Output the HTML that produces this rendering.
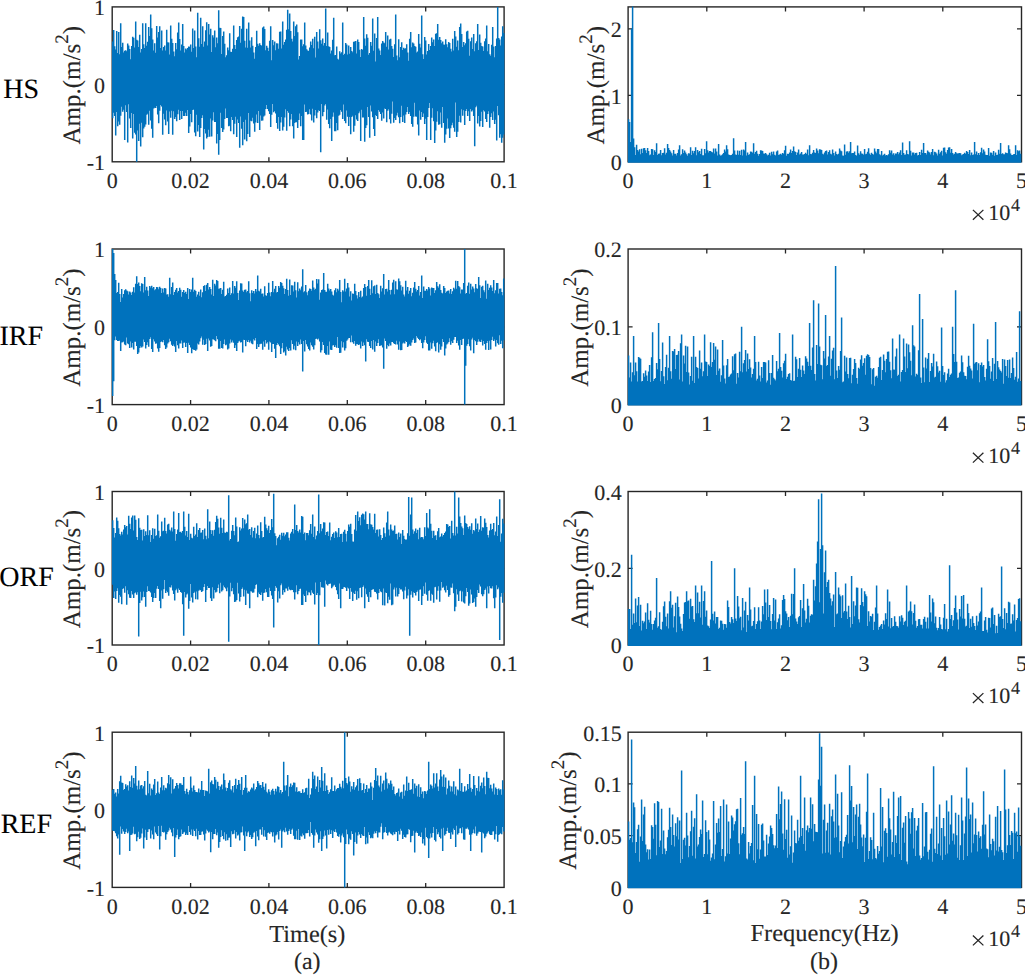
<!DOCTYPE html><html><head><meta charset="utf-8"><style>html,body{margin:0;padding:0;background:#fff;width:1025px;height:975px;overflow:hidden}svg{display:block}text{font-family:"Liberation Serif", serif;fill:#262626;stroke:#262626;stroke-width:0.12px;text-rendering:geometricPrecision}</style></head><body>
<svg width="1025" height="975" viewBox="0 0 1025 975">
<rect width="1025" height="975" fill="#fff"/>
<rect x="112.2" y="6.9" width="391.9" height="154.9" fill="none" stroke="#262626" stroke-width="1.4"/>
<path d="M190.6 161.8V157.3M190.6 6.9V11.4M268.9 161.8V157.3M268.9 6.9V11.4M347.3 161.8V157.3M347.3 6.9V11.4M425.7 161.8V157.3M425.7 6.9V11.4M112.2 84.4H116.7M504.1 84.4H499.6" stroke="#262626" stroke-width="1.3" fill="none"/>
<clipPath id="cl0"><rect x="111.5" y="6.4" width="393.4" height="156.7"/></clipPath>
<path clip-path="url(#cl0)" d="M112.7 41.6V118.3M113.7 29.9V112.7M114.7 46.3V115.9M115.7 49.6V135.5M116.7 31.1V111.9M117.7 53V126.2M118.7 31.9V121.6M119.7 54.2V124.7M120.7 23.2V115.7M121.7 47V106.8M122.7 42.7V111.8M123.7 52.6V109.7M124.7 50.8V140.1M125.7 50.2V105.2M126.7 51.2V112M127.7 43.6V142.4M128.7 45.5V104.2M129.7 48.9V118.6M130.7 59.2V127.9M131.7 45.9V113M132.7 36.8V138.6M133.7 37.8V114M134.7 47.6V132.7M135.7 21.6V134.6M136.7 39.7V161.8M137.7 40.5V130.6M138.7 47.1V141.1M139.7 34.7V123.7M140.7 52.6V146.6M141.7 48.9V122.7M142.7 23.2V137.2M143.7 44.3V128.4M144.7 48.1V126.7M145.7 23.2V124.5M146.7 45.7V114.8M147.7 41.8V113.7M148.7 27V124.7M149.7 36.1V110.7M150.7 14.6V120.4M151.7 28.2V128.7M152.7 39.6V137.8M153.7 50.5V108.5M154.7 43.2V107.8M155.7 52.8V108.1M156.7 25.9V106M157.7 37.5V114.5M158.7 32V123.2M159.7 26.3V110.7M160.7 47.9V105.1M161.7 30.4V106.4M162.7 50.4V134.7M163.7 47V113.7M164.7 45.4V119.6M165.7 50.4V125.2M166.7 29.7V110.5M167.7 42.2V121.5M168.7 42.4V133.9M169.7 54.6V111.5M170.7 25.5V117.7M171.7 38.8V110.7M172.7 43V134.7M173.7 51.4V111.3M174.7 56.2V119M175.7 43.1V117M176.7 49.3V121.3M177.7 32.6V114.2M178.7 22.4V109.7M179.7 39.1V120.1M180.7 50.6V111.1M181.7 44.6V119M182.7 23.9V110.9M183.7 46V115.9M184.7 52.4V116.1M185.7 48.6V112.7M186.7 49.6V115.9M187.7 48V110M188.7 46.4V133.1M189.7 46.7V126.5M190.7 44.5V113.9M191.7 51.8V122.3M192.7 28.6V110M193.7 48.1V109.5M194.7 30.4V132.4M195.7 46.5V136.2M196.7 57.3V114.7M197.7 12.7V131.6M198.7 38.3V125.1M199.7 46.7V136.9M200.7 17.7V127.9M201.7 44.1V118.1M202.7 26.3V115.2M203.7 46.7V149.4M204.7 41.5V129.1M205.7 30.3V133.5M206.7 22.2V138.6M207.7 45.4V137M208.7 24V129.7M209.7 34.5V136.8M210.7 28.7V118.6M211.7 51.9V136.6M212.7 35.2V120.6M213.7 37.4V112.2M214.7 30.5V121.9M215.7 47.2V122.1M216.7 37.5V143.5M217.7 43.3V134.1M218.7 10.2V154.8M219.7 27.7V140M220.7 27.9V112.8M221.7 54.1V128.1M222.7 36V132M223.7 31.6V129.4M224.7 43.8V118.9M225.7 57.2V108.5M226.7 55.2V118M227.7 47.5V118M228.7 50.3V126.2M229.7 33.2V125.8M230.7 51.8V131.3M231.7 51.9V117M232.7 48.7V120.1M233.7 25.5V134.3M234.7 45V123.7M235.7 49V116.7M236.7 40.1V137.1M237.7 37.2V119.4M238.7 36.6V122.9M239.7 26.1V147.8M240.7 42.8V116.5M241.7 28.7V128.8M242.7 16.6V145.3M243.7 17V122M244.7 40.7V139.4M245.7 47.4V119.8M246.7 28.8V141.3M247.7 47.7V134.1M248.7 22.6V112.9M249.7 40.5V137.1M250.7 47.4V120.7M251.7 37.2V121.2M252.7 45.7V117.7M253.7 52.6V123.6M254.7 58.7V131.7M255.7 46.9V122.4M256.7 30.7V114.5M257.7 43.8V122.9M258.7 45.8V110.9M259.7 43.3V130M260.7 45V115.4M261.7 45.8V120.8M262.7 27.6V120.6M263.7 26.6V116.5M264.7 28.9V115.4M265.7 50.2V108.9M266.7 45.8V105M267.7 47.8V109M268.7 51.1V111.3M269.7 40.8V114M270.7 26.3V126.9M271.7 60.2V114.8M272.7 39.9V104M273.7 45.2V112.3M274.7 41.6V111.1M275.7 50.3V113.5M276.7 43.3V123.1M277.7 43.5V128.8M278.7 48.7V117.1M279.7 31.8V131.1M280.7 31.5V122.6M281.7 48.4V117.1M282.7 21.4V130.6M283.7 44.7V126.7M284.7 42.1V117.6M285.7 39.5V109.2M286.7 29.8V130.8M287.7 9.8V111.1M288.7 29.2V112.7M289.7 13.4V126.2M290.7 30.9V119.6M291.7 38.7V114.1M292.7 41.5V126.2M293.7 21.6V138.6M294.7 36V123.1M295.7 26.3V121.9M296.7 24.6V122.2M297.7 32.3V127.9M298.7 59.5V120M299.7 56.1V113.4M300.7 39.4V126.2M301.7 39.4V116M302.7 46.3V140.1M303.7 44.2V140.1M304.7 22.4V104.6M305.7 45.6V111.9M306.7 49.3V111.8M307.7 50.4V114.6M308.7 51V114.1M309.7 47.6V109.3M310.7 41.6V114.4M311.7 44.9V120.6M312.7 38.8V108.8M313.7 48.2V122.6M314.7 36.8V115.4M315.7 57.5V110M316.7 32.1V118.2M317.7 41.6V112.5M318.7 48.6V110.3M319.7 29.2V111M320.7 40.3V152.3M321.7 43.7V104.1M322.7 38.4V116.3M323.7 45.4V111.9M324.7 43.1V105.6M325.7 8.4V104.1M326.7 46.1V119.8M327.7 32.6V109.5M328.7 46.2V123.9M329.7 47V128.3M330.7 53.4V118.9M331.7 50.5V140.9M332.7 39.7V116.7M333.7 17.7V112.5M334.7 55.2V131.2M335.7 55.1V131.2M336.7 46.4V122.9M337.7 58.7V130.3M338.7 59.8V115.8M339.7 51.2V114.7M340.7 53.4V109.9M341.7 52.2V111.7M342.7 22.4V119.1M343.7 54.9V104.4M344.7 53.7V121M345.7 43V123.3M346.7 44.6V110.4M347.7 54.6V116.7M348.7 45.4V126.1M349.7 53.7V116.9M350.7 46.9V134.3M351.7 51V116.9M352.7 52.3V115.8M353.7 41.7V131.7M354.7 41.5V125.7M355.7 41V115.2M356.7 53.5V119.4M357.7 39.6V121.1M358.7 42V113.2M359.7 49.7V111.4M360.7 56.9V140.9M361.7 49.1V109.8M362.7 49.9V117.4M363.7 17V117.6M364.7 38.4V141.7M365.7 45.8V128M366.7 34.3V125.3M367.7 37.7V107M368.7 54.8V117M369.7 52.9V137.8M370.7 42.1V105.4M371.7 45.8V111.4M372.7 18.5V117.2M373.7 50.7V128.9M374.7 33.5V136M375.7 61.4V115.1M376.7 38V116M377.7 17V118.9M378.7 48.5V110.1M379.7 50.4V111.8M380.7 55V114.1M381.7 43.4V120.8M382.7 40.9V112.6M383.7 42.6V118.6M384.7 43.2V108.5M385.7 32.1V109.1M386.7 46.8V122.2M387.7 35.5V110.7M388.7 49.5V109.3M389.7 39.4V119.3M390.7 38.8V123.6M391.7 46V113.8M392.7 48.7V101.6M393.7 56.9V122.7M394.7 44.2V118M395.7 14.6V120M396.7 55.5V115.5M397.7 60.3V112.7M398.7 39.2V117.3M399.7 57.3V123.3M400.7 46.9V116.9M401.7 42.2V105.8M402.7 50V122M403.7 47.7V115.6M404.7 48.7V122.9M405.7 48.2V114.4M406.7 44.3V112M407.7 52.6V107.1M408.7 60.7V113.9M409.7 38.7V111.9M410.7 32.1V115.9M411.7 47.2V124M412.7 42.5V126.7M413.7 43.4V116.7M414.7 46V102.7M415.7 46.8V116.4M416.7 52.6V116.7M417.7 51.6V124.5M418.7 33.9V135.5M419.7 43.7V110.5M420.7 47.6V119.7M421.7 15.4V111.9M422.7 54.3V117M423.7 58.9V113.6M424.7 37V123.9M425.7 40.5V118.8M426.7 54.4V140.1M427.7 50.9V116.9M428.7 44V107.9M429.7 49.9V103.1M430.7 46.1V140.1M431.7 37.6V117.8M432.7 42.3V108.2M433.7 39.5V121.3M434.7 46V143M435.7 33.7V130.4M436.7 33.3V121.7M437.7 23.9V111.3M438.7 39.7V124.8M439.7 37V124.2M440.7 40.1V112.4M441.7 43.2V127.8M442.7 41.5V107.1M443.7 44.4V123.1M444.7 44.8V142.8M445.7 39.3V134.4M446.7 44.2V128.7M447.7 47.2V118.4M448.7 42V128.4M449.7 43.1V138.1M450.7 48.7V128.3M451.7 51.5V125.3M452.7 38.7V122.7M453.7 50.5V127.8M454.7 30.9V131.7M455.7 36.6V102.4M456.7 46.8V137M457.7 40.4V131.7M458.7 50.2V122M459.7 27V115.8M460.7 23.4V122.6M461.7 34V109.3M462.7 46.9V115.8M463.7 42V110.2M464.7 45.3V125.1M465.7 43.3V111M466.7 31.4V109M467.7 30.7V116.1M468.7 38.8V111.3M469.7 55.7V121M470.7 41.3V109.1M471.7 37.4V111.4M472.7 49.1V110.3M473.7 34.1V116M474.7 51.3V146.3M475.7 43.3V107.3M476.7 41.2V105.8M477.7 23.9V123.6M478.7 49.9V115.9M479.7 34.5V126.4M480.7 42.7V121M481.7 46V111.7M482.7 46.5V126.9M483.7 51.1V110.3M484.7 41.3V111.4M485.7 38.6V118.9M486.7 25.5V122M487.7 51.2V114.1M488.7 44V111.2M489.7 54.2V127.8M490.7 55.8V116.9M491.7 44.7V113.3M492.7 27V120M493.7 46.6V111.4M494.7 57.3V123.9M495.7 45.9V119.8M496.7 38.5V140.4M497.7 6.9V106M498.7 37.9V115.3M499.7 39.6V137.8M500.7 45.5V134.2M501.7 36.5V142.8M502.7 26.3V137.8M503.7 33V134.4" stroke="#0072BD" stroke-width="1.5" fill="none"/>
<text x="112.2" y="188.1" text-anchor="middle" font-size="22">0</text>
<text x="190.6" y="188.1" text-anchor="middle" font-size="22">0.02</text>
<text x="268.9" y="188.1" text-anchor="middle" font-size="22">0.04</text>
<text x="347.3" y="188.1" text-anchor="middle" font-size="22">0.06</text>
<text x="425.7" y="188.1" text-anchor="middle" font-size="22">0.08</text>
<text x="504.1" y="188.1" text-anchor="middle" font-size="22">0.1</text>
<text x="105" y="170.1" text-anchor="end" font-size="22">-1</text>
<text x="105" y="92.7" text-anchor="end" font-size="22">0</text>
<text x="105" y="15.2" text-anchor="end" font-size="22">1</text>
<rect x="628.1" y="6.9" width="393.4" height="154.9" fill="none" stroke="#262626" stroke-width="1.4"/>
<path d="M706.8 161.8V157.3M706.8 6.9V11.4M785.5 161.8V157.3M785.5 6.9V11.4M864.1 161.8V157.3M864.1 6.9V11.4M942.8 161.8V157.3M942.8 6.9V11.4M628.1 95.3H632.6M1021.5 95.3H1017M628.1 28.8H632.6M1021.5 28.8H1017" stroke="#262626" stroke-width="1.3" fill="none"/>
<clipPath id="cr0"><rect x="627.4" y="6.4" width="394.9" height="156.7"/></clipPath>
<path clip-path="url(#cr0)" d="M628.6 119.3V162.8M629.6 121.9V162.8M630.6 141.9V162.8M631.6 28.8V162.8M632.6 -4.4V162.8M633.6 138.5V162.8M634.6 147.2V162.8M635.6 155V162.8M636.6 144.8V162.8M637.6 150V162.8M638.6 151.6V162.8M639.6 149.2V162.8M640.6 154.3V162.8M641.6 148.8V162.8M642.6 153V162.8M643.6 148.2V162.8M644.6 148V162.8M645.6 150.3V162.8M646.6 153.1V162.8M647.6 147.9V162.8M648.6 151.1V162.8M649.6 155.2V162.8M650.6 154.5V162.8M651.6 148.9V162.8M652.6 149.2V162.8M653.6 155.1V162.8M654.6 150.2V162.8M655.6 152.1V162.8M656.6 143.2V162.8M657.6 155V162.8M658.6 153.8V162.8M659.6 153.5V162.8M660.6 149.9V162.8M661.6 155.2V162.8M662.6 153.1V162.8M663.6 152.8V162.8M664.6 148.3V162.8M665.6 154.6V162.8M666.6 152.8V162.8M667.6 143.9V162.8M668.6 148.1V162.8M669.6 150V162.8M670.6 151.6V162.8M671.6 153.2V162.8M672.6 155.4V162.8M673.6 150V162.8M674.6 153.8V162.8M675.6 153.7V162.8M676.6 155.4V162.8M677.6 153V162.8M678.6 149.4V162.8M679.6 145.2V162.8M680.6 155.5V162.8M681.6 154.2V162.8M682.6 149.3V162.8M683.6 153.1V162.8M684.6 150.4V162.8M685.6 152.6V162.8M686.6 154.2V162.8M687.6 155.8V162.8M688.6 153.2V162.8M689.6 153.6V162.8M690.6 147.2V162.8M691.6 154.9V162.8M692.6 150.8V162.8M693.6 153.3V162.8M694.6 151V162.8M695.6 147.2V162.8M696.6 155.2V162.8M697.6 150V162.8M698.6 152.2V162.8M699.6 150.9V162.8M700.6 154.1V162.8M701.6 148.8V162.8M702.6 155.3V162.8M703.6 155.3V162.8M704.6 149.1V162.8M705.6 153.3V162.8M706.6 141.2V162.8M707.6 150.3V162.8M708.6 152.5V162.8M709.6 151.1V162.8M710.6 151.1V162.8M711.6 152.1V162.8M712.6 152.4V162.8M713.6 148.4V162.8M714.6 153.6V162.8M715.6 148.4V162.8M716.6 151.5V162.8M717.6 155.6V162.8M718.6 143.9V162.8M719.6 154.4V162.8M720.6 155.8V162.8M721.6 155.2V162.8M722.6 154.2V162.8M723.6 152.9V162.8M724.6 149.6V162.8M725.6 151.6V162.8M726.6 145.2V162.8M727.6 149.2V162.8M728.6 154.5V162.8M729.6 155V162.8M730.6 155.2V162.8M731.6 155V162.8M732.6 153.7V162.8M733.6 138.2V162.8M734.6 150.6V162.8M735.6 154.4V162.8M736.6 155.1V162.8M737.6 150.4V162.8M738.6 154.7V162.8M739.6 150.7V162.8M740.6 155.1V162.8M741.6 149.8V162.8M742.6 155.5V162.8M743.6 149.5V162.8M744.6 150.5V162.8M745.6 141.9V162.8M746.6 155.6V162.8M747.6 152.5V162.8M748.6 154.9V162.8M749.6 154.3V162.8M750.6 151.6V162.8M751.6 151.7V162.8M752.6 152.8V162.8M753.6 143.2V162.8M754.6 153.7V162.8M755.6 152V162.8M756.6 150.7V162.8M757.6 153.7V162.8M758.6 155.7V162.8M759.6 153.9V162.8M760.6 150.2V162.8M761.6 150.4V162.8M762.6 150.9V162.8M763.6 153.6V162.8M764.6 153.7V162.8M765.6 153V162.8M766.6 154.3V162.8M767.6 155.6V162.8M768.6 154.7V162.8M769.6 152.7V162.8M770.6 155.4V162.8M771.6 151.7V162.8M772.6 154.3V162.8M773.6 151.5V162.8M774.6 154.7V162.8M775.6 155.5V162.8M776.6 151.5V162.8M777.6 150.6V162.8M778.6 155.1V162.8M779.6 154.4V162.8M780.6 153.8V162.8M781.6 154.8V162.8M782.6 152.9V162.8M783.6 153.7V162.8M784.6 150.3V162.8M785.6 145.8V162.8M786.6 155.8V162.8M787.6 153.8V162.8M788.6 154V162.8M789.6 152.5V162.8M790.6 149.5V162.8M791.6 152.9V162.8M792.6 151V162.8M793.6 146.5V162.8M794.6 151.2V162.8M795.6 152.1V162.8M796.6 154.9V162.8M797.6 152.5V162.8M798.6 149.4V162.8M799.6 154.6V162.8M800.6 153.5V162.8M801.6 152.1V162.8M802.6 154.5V162.8M803.6 154.6V162.8M804.6 154.1V162.8M805.6 152.7V162.8M806.6 153.9V162.8M807.6 149.4V162.8M808.6 155.2V162.8M809.6 145.2V162.8M810.6 153.9V162.8M811.6 154.3V162.8M812.6 152.8V162.8M813.6 149.9V162.8M814.6 152.5V162.8M815.6 152.9V162.8M816.6 148.4V162.8M817.6 150.4V162.8M818.6 153.3V162.8M819.6 149.3V162.8M820.6 149.6V162.8M821.6 150.1V162.8M822.6 153.7V162.8M823.6 154.4V162.8M824.6 152.5V162.8M825.6 151.1V162.8M826.6 150.6V162.8M827.6 154.4V162.8M828.6 152.1V162.8M829.6 150.3V162.8M830.6 153.7V162.8M831.6 154.5V162.8M832.6 149.5V162.8M833.6 153.1V162.8M834.6 155.4V162.8M835.6 151.5V162.8M836.6 153.9V162.8M837.6 154.8V162.8M838.6 153.8V162.8M839.6 148.6V162.8M840.6 150.5V162.8M841.6 151.3V162.8M842.6 155.6V162.8M843.6 155.8V162.8M844.6 144.5V162.8M845.6 154.7V162.8M846.6 151.5V162.8M847.6 151.3V162.8M848.6 152.8V162.8M849.6 151.3V162.8M850.6 141.9V162.8M851.6 153.3V162.8M852.6 153.1V162.8M853.6 153.1V162.8M854.6 151.6V162.8M855.6 155V162.8M856.6 155.7V162.8M857.6 145.5V162.8M858.6 153.2V162.8M859.6 154.8V162.8M860.6 151.3V162.8M861.6 153.6V162.8M862.6 153.8V162.8M863.6 154.7V162.8M864.6 149V162.8M865.6 154.3V162.8M866.6 153.7V162.8M867.6 151.8V162.8M868.6 148.2V162.8M869.6 153.5V162.8M870.6 155.1V162.8M871.6 152.7V162.8M872.6 154.1V162.8M873.6 154.8V162.8M874.6 148.6V162.8M875.6 151.5V162.8M876.6 153.2V162.8M877.6 149V162.8M878.6 149V162.8M879.6 154.3V162.8M880.6 155.2V162.8M881.6 150.9V162.8M882.6 155.6V162.8M883.6 154.8V162.8M884.6 153.7V162.8M885.6 155.4V162.8M886.6 155.1V162.8M887.6 155.6V162.8M888.6 154.2V162.8M889.6 150.3V162.8M890.6 152.7V162.8M891.6 150.4V162.8M892.6 154.6V162.8M893.6 153.2V162.8M894.6 155.3V162.8M895.6 153.5V162.8M896.6 153.6V162.8M897.6 151.9V162.8M898.6 154.2V162.8M899.6 152.6V162.8M900.6 150.3V162.8M901.6 155V162.8M902.6 142.5V162.8M903.6 152.9V162.8M904.6 154.8V162.8M905.6 154.6V162.8M906.6 150.2V162.8M907.6 154.1V162.8M908.6 154.4V162.8M909.6 141.2V162.8M910.6 150.7V162.8M911.6 155.5V162.8M912.6 152.5V162.8M913.6 152.4V162.8M914.6 154.6V162.8M915.6 152.9V162.8M916.6 152.8V162.8M917.6 155.4V162.8M918.6 155V162.8M919.6 151.9V162.8M920.6 154.9V162.8M921.6 149.8V162.8M922.6 152.9V162.8M923.6 142.9V162.8M924.6 153.1V162.8M925.6 153.1V162.8M926.6 154.6V162.8M927.6 150.5V162.8M928.6 151.7V162.8M929.6 152.4V162.8M930.6 154.4V162.8M931.6 152.1V162.8M932.6 148.9V162.8M933.6 155.2V162.8M934.6 151.7V162.8M935.6 152.2V162.8M936.6 153.5V162.8M937.6 155.6V162.8M938.6 149.8V162.8M939.6 153.7V162.8M940.6 152.2V162.8M941.6 150.7V162.8M942.6 155.5V162.8M943.6 147.7V162.8M944.6 147.5V162.8M945.6 152.2V162.8M946.6 153.8V162.8M947.6 150.1V162.8M948.6 147.4V162.8M949.6 147.3V162.8M950.6 152.7V162.8M951.6 149V162.8M952.6 152.9V162.8M953.6 154.5V162.8M954.6 153.7V162.8M955.6 152V162.8M956.6 153.3V162.8M957.6 153.6V162.8M958.6 153.2V162.8M959.6 153.1V162.8M960.6 153.3V162.8M961.6 155.2V162.8M962.6 154.4V162.8M963.6 154.1V162.8M964.6 152.8V162.8M965.6 153.8V162.8M966.6 150.9V162.8M967.6 151.9V162.8M968.6 154V162.8M969.6 149.9V162.8M970.6 155.2V162.8M971.6 152.6V162.8M972.6 154.9V162.8M973.6 154.6V162.8M974.6 141.9V162.8M975.6 154.2V162.8M976.6 151.4V162.8M977.6 155V162.8M978.6 153.1V162.8M979.6 155V162.8M980.6 152.3V162.8M981.6 147.7V162.8M982.6 153.3V162.8M983.6 149.6V162.8M984.6 151.4V162.8M985.6 154.8V162.8M986.6 155.1V162.8M987.6 154.9V162.8M988.6 148V162.8M989.6 155.7V162.8M990.6 152.6V162.8M991.6 152.7V162.8M992.6 154.8V162.8M993.6 151.1V162.8M994.6 155.7V162.8M995.6 152.4V162.8M996.6 155.1V162.8M997.6 154.8V162.8M998.6 149.7V162.8M999.6 153.8V162.8M1000.6 142.9V162.8M1001.6 153.9V162.8M1002.6 153.2V162.8M1003.6 154.3V162.8M1004.6 154.2V162.8M1005.6 152.5V162.8M1006.6 153.1V162.8M1007.6 153.3V162.8M1008.6 145.2V162.8M1009.6 149.3V162.8M1010.6 153.4V162.8M1011.6 155V162.8M1012.6 155V162.8M1013.6 154.2V162.8M1014.6 154V162.8M1015.6 145.2V162.8M1016.6 155.1V162.8M1017.6 150.2V162.8M1018.6 151.3V162.8M1019.6 150.6V162.8M1020.6 153.7V162.8" stroke="#0072BD" stroke-width="1.5" fill="none"/>
<text x="628.1" y="188.1" text-anchor="middle" font-size="22">0</text>
<text x="706.8" y="188.1" text-anchor="middle" font-size="22">1</text>
<text x="785.5" y="188.1" text-anchor="middle" font-size="22">2</text>
<text x="864.1" y="188.1" text-anchor="middle" font-size="22">3</text>
<text x="942.8" y="188.1" text-anchor="middle" font-size="22">4</text>
<text x="1021.5" y="188.1" text-anchor="middle" font-size="22">5</text>
<text x="621.8" y="170.1" text-anchor="end" font-size="22">0</text>
<text x="621.8" y="103.6" text-anchor="end" font-size="22">1</text>
<text x="621.8" y="37.1" text-anchor="end" font-size="22">2</text>
<text x="3.2" y="98.3" font-size="28" style="fill:#000">HS</text>
<text transform="translate(80 85.2) rotate(-90)" text-anchor="middle" font-size="25">Amp.(m/s<tspan dy="-12" font-size="19">2</tspan><tspan dy="12">)</tspan></text>
<text transform="translate(604.4 85.2) rotate(-90)" text-anchor="middle" font-size="25">Amp.(m/s<tspan dy="-12" font-size="19">2</tspan><tspan dy="12">)</tspan></text>
<path d="M972.9 209.9L983.4 219.8M983.4 209.9L972.9 219.8" stroke="#262626" stroke-width="1.3" fill="none"/>
<text x="988.2" y="220.1" font-size="22">10</text>
<text x="1011" y="210.9" font-size="18">4</text>
<rect x="112.2" y="249" width="391.9" height="155.6" fill="none" stroke="#262626" stroke-width="1.4"/>
<path d="M190.6 404.6V400.1M190.6 249V253.5M268.9 404.6V400.1M268.9 249V253.5M347.3 404.6V400.1M347.3 249V253.5M425.7 404.6V400.1M425.7 249V253.5M112.2 326.8H116.7M504.1 326.8H499.6" stroke="#262626" stroke-width="1.3" fill="none"/>
<clipPath id="cl1"><rect x="111.5" y="248.5" width="393.4" height="157.4"/></clipPath>
<path clip-path="url(#cl1)" d="M112.7 249V396M113.7 252.9V381.3M114.7 273.9V340.3M115.7 280.1V336.6M116.7 293.1V340.1M117.7 291.9V340.9M118.7 282.7V340.9M119.7 294V340.5M120.7 302V350.9M121.7 288.9V342.5M122.7 297.4V342.3M123.7 294V341.5M124.7 290.3V344.5M125.7 289.2V345.2M126.7 290.5V337.4M127.7 291.2V343.5M128.7 294.5V344.2M129.7 291.5V347.9M130.7 292.6V341.6M131.7 294.9V347.6M132.7 291.8V343M133.7 287.2V349.4M134.7 292.4V341.7M135.7 283.7V341.7M136.7 276.2V346M137.7 283.9V353.9M138.7 282.6V352.4M139.7 286V347.9M140.7 291.3V346.2M141.7 283.2V347.5M142.7 283.9V346.4M143.7 292.5V339.4M144.7 277V341.9M145.7 290.2V348.4M146.7 286.8V345M147.7 290.6V342.2M148.7 295.9V346.8M149.7 285.9V338.9M150.7 287.4V337.2M151.7 285.7V349.1M152.7 288.2V352M153.7 287V339.2M154.7 290.2V341.4M155.7 289.2V343.7M156.7 286.9V343.3M157.7 287.3V348.6M158.7 289.3V351.7M159.7 286.8V348.1M160.7 288V342.1M161.7 293.1V341.2M162.7 288.4V342.2M163.7 292.6V339.9M164.7 287.9V345.2M165.7 288.6V349M166.7 294.5V347.5M167.7 294.2V343.4M168.7 296.7V342.3M169.7 277.8V338.7M170.7 294.2V341.2M171.7 286.9V344.8M172.7 282.5V346M173.7 295V344.5M174.7 292.1V346.4M175.7 289.8V352.1M176.7 288V340.9M177.7 292.5V345.3M178.7 291V348.5M179.7 287.7V343.4M180.7 289.8V343.5M181.7 296.8V340.5M182.7 292V348.1M183.7 289.9V342.8M184.7 293.1V342.5M185.7 291.7V347M186.7 294V342.9M187.7 288.1V353M188.7 298.9V342.7M189.7 289V345M190.7 291.9V347.5M191.7 289.5V353.3M192.7 277.8V348.9M193.7 291.7V349.7M194.7 289.7V350.1M195.7 290.9V350.8M196.7 296.7V349.6M197.7 294.5V343.4M198.7 291.8V344.4M199.7 295.7V341.4M200.7 289.6V338.2M201.7 297.3V336.6M202.7 292.3V344.8M203.7 286.1V339.7M204.7 285.2V344.9M205.7 291V343.9M206.7 284.8V338.8M207.7 283.1V350.9M208.7 289.6V338.5M209.7 287.1V340.4M210.7 289V346.8M211.7 294.4V346M212.7 279.7V339.2M213.7 296V339.6M214.7 283.8V340.3M215.7 285.5V341.2M216.7 280.1V336M217.7 281V339.2M218.7 288.8V348.8M219.7 288.5V348.7M220.7 288.1V341M221.7 294V347.9M222.7 289.8V348.6M223.7 281.7V344M224.7 296.6V339.4M225.7 295.9V345.2M226.7 294.7V344.4M227.7 288.6V349.4M228.7 293.1V348.5M229.7 287.5V343.6M230.7 295V339.5M231.7 293.3V342.6M232.7 280.9V340.5M233.7 293.5V342.7M234.7 286.1V348.1M235.7 287.7V345.2M236.7 281.3V350.9M237.7 293V342.9M238.7 300.1V341.4M239.7 290.6V340.7M240.7 283.3V342.6M241.7 283.5V342M242.7 290.6V352.5M243.7 292.1V339.8M244.7 289.8V340.1M245.7 289.6V346.3M246.7 292.2V340.6M247.7 291.1V342M248.7 281.3V340M249.7 293.2V342.5M250.7 301.2V340.7M251.7 290.3V343.4M252.7 293.1V344.3M253.7 291V339.2M254.7 293.4V340.6M255.7 289.1V337.9M256.7 291.6V348.9M257.7 275.5V344.1M258.7 290.7V347.1M259.7 291.5V344.2M260.7 288.8V343.7M261.7 293.7V343.8M262.7 293.6V349.7M263.7 296.5V341.5M264.7 286.2V346.8M265.7 295.2V340M266.7 295.9V343.5M267.7 293.1V342.1M268.7 282.7V349.7M269.7 292.5V341.6M270.7 296.2V342.5M271.7 292.1V352M272.7 280.9V344.1M273.7 292.2V344M274.7 288.8V348.7M275.7 286V357.9M276.7 292.6V345M277.7 291.9V343M278.7 285.9V344.5M279.7 287.8V346.2M280.7 281.9V353.9M281.7 283V348.2M282.7 285.7V342.9M283.7 288.2V352.5M284.7 293.9V351.2M285.7 289.1V355.4M286.7 278.8V346.7M287.7 289.9V349.6M288.7 295.7V351M289.7 279.6V348.1M290.7 294.9V350.6M291.7 285.3V340.3M292.7 285.6V344.1M293.7 291.6V349.4M294.7 281.7V345.8M295.7 290.2V350.2M296.7 297.6V341.6M297.7 282.3V346M298.7 291.2V342.3M299.7 288.5V344.4M300.7 290.2V339.4M301.7 286.6V343.9M302.7 269.2V371.6M303.7 292.3V340.9M304.7 291.2V351.6M305.7 284.9V339.9M306.7 292.2V344.3M307.7 295.3V346.5M308.7 290.7V348.9M309.7 288.6V350.4M310.7 288.9V342.6M311.7 290.7V345.2M312.7 280.5V346.7M313.7 287.4V349.4M314.7 289.7V345.2M315.7 288.7V339.1M316.7 279V338.6M317.7 283.5V339.6M318.7 279.2V338.5M319.7 299.7V341.4M320.7 292.4V352.5M321.7 290V350.3M322.7 289.5V341.9M323.7 273.1V345.1M324.7 290V353.1M325.7 291.7V354.4M326.7 291.7V354.7M327.7 283.7V346.1M328.7 288.5V354.8M329.7 290.5V341.5M330.7 288.9V349.8M331.7 291.5V350.1M332.7 294.7V345.5M333.7 295.7V345M334.7 290.2V347.1M335.7 288.2V345.2M336.7 292.3V347.8M337.7 288.7V337M338.7 290.5V347.9M339.7 280.1V353M340.7 292.1V352.8M341.7 302.3V341.2M342.7 290.2V347.5M343.7 291.4V342.3M344.7 278.8V350.6M345.7 291.6V348.2M346.7 288.6V340.8M347.7 282.9V339.6M348.7 287.6V337.9M349.7 296.6V337.9M350.7 291.2V342.2M351.7 300.4V335.5M352.7 293.5V342.3M353.7 294.1V343.8M354.7 283.7V340.9M355.7 290.9V345.7M356.7 295.2V344M357.7 298.5V344.3M358.7 292V345M359.7 297V344.3M360.7 290.7V348.6M361.7 297.6V341.5M362.7 296.4V346M363.7 288V342.5M364.7 284V345.2M365.7 286.9V361.4M366.7 295.7V339.3M367.7 286.1V341.8M368.7 280.1V341.9M369.7 288.7V346.1M370.7 295.1V348.1M371.7 280.2V341.1M372.7 293.2V349.4M373.7 286.3V340.1M374.7 285.6V351.8M375.7 294.1V341.4M376.7 284.7V345.9M377.7 292.9V342.9M378.7 294.2V339.2M379.7 297.9V346.1M380.7 285.7V345.5M381.7 291.6V345.3M382.7 288.3V347.6M383.7 273.9V368.8M384.7 294.6V338.6M385.7 288.9V340.9M386.7 288.7V348.7M387.7 291.5V344.9M388.7 280.1V346.2M389.7 290V343.4M390.7 294.4V345.5M391.7 289.8V342.1M392.7 282.4V342.1M393.7 279.8V343.2M394.7 294.2V344M395.7 281.2V344.4M396.7 289.2V340.8M397.7 289.7V344.4M398.7 278.4V349.7M399.7 281.2V341.5M400.7 285.2V350.2M401.7 290.6V350.1M402.7 286.7V343.6M403.7 294.4V342.6M404.7 296.4V343.5M405.7 280.8V341.1M406.7 290.6V342M407.7 287V346.9M408.7 293.8V345.8M409.7 290.7V344.3M410.7 288.1V345.7M411.7 296.3V342.5M412.7 292.8V340.1M413.7 287.4V338.6M414.7 281.9V343.1M415.7 288.7V342.4M416.7 291.5V336M417.7 290.1V337.7M418.7 285.9V338.9M419.7 295.5V340.3M420.7 292.1V338.9M421.7 275.5V342.9M422.7 298.1V348.2M423.7 286.4V342.6M424.7 290.7V340.1M425.7 290.7V336.3M426.7 288.9V342.7M427.7 290.4V343.9M428.7 287V350.5M429.7 288.6V350.4M430.7 295.6V342.4M431.7 287.6V348.7M432.7 288.1V343.2M433.7 288.1V340.8M434.7 293.1V346.6M435.7 290.2V351.2M436.7 282V343M437.7 286.2V342.1M438.7 287.8V352.5M439.7 284.3V344.3M440.7 289.9V349.7M441.7 292.8V346.5M442.7 293.4V339M443.7 286V342.1M444.7 288.1V355.6M445.7 293V348.4M446.7 291.4V344.6M447.7 290.8V343.5M448.7 290.5V342.1M449.7 293.6V338.3M450.7 289.1V344.7M451.7 294.1V341.2M452.7 291.2V342.9M453.7 287.7V339.8M454.7 289.3V337M455.7 280.8V336.9M456.7 288.8V342.9M457.7 281.1V340.7M458.7 286V345.6M459.7 287.3V349.8M460.7 293.6V340.1M461.7 289.4V345M462.7 289.4V339.1M463.7 282.9V338.6M464.7 249V404.6M465.7 293.8V365.7M466.7 292.9V345.8M467.7 285.8V343.9M468.7 282.4V339.2M469.7 293.8V346.2M470.7 283.8V350.5M471.7 289.4V339.5M472.7 286.4V337.8M473.7 288.5V353.3M474.7 292.2V339.9M475.7 284.1V341.2M476.7 288.2V345.1M477.7 289V341.8M478.7 277V339.3M479.7 285.3V341.4M480.7 298.1V342M481.7 286.7V339.8M482.7 285.7V345.4M483.7 290.2V341M484.7 292.3V343.9M485.7 280.6V349.7M486.7 298.8V343.1M487.7 283.7V340.9M488.7 289.9V350.1M489.7 287.7V340.8M490.7 285.3V349.4M491.7 287.5V340M492.7 291.1V336.7M493.7 280.1V341M494.7 293.3V339.6M495.7 290.2V346.6M496.7 283V339.9M497.7 282.9V343.3M498.7 293.6V344.8M499.7 288.8V335.2M500.7 288.5V343.9M501.7 292V340.7M502.7 295.2V348.2M503.7 278.6V340.3" stroke="#0072BD" stroke-width="1.5" fill="none"/>
<text x="112.2" y="430.9" text-anchor="middle" font-size="22">0</text>
<text x="190.6" y="430.9" text-anchor="middle" font-size="22">0.02</text>
<text x="268.9" y="430.9" text-anchor="middle" font-size="22">0.04</text>
<text x="347.3" y="430.9" text-anchor="middle" font-size="22">0.06</text>
<text x="425.7" y="430.9" text-anchor="middle" font-size="22">0.08</text>
<text x="504.1" y="430.9" text-anchor="middle" font-size="22">0.1</text>
<text x="105" y="412.9" text-anchor="end" font-size="22">-1</text>
<text x="105" y="335.1" text-anchor="end" font-size="22">0</text>
<text x="105" y="257.3" text-anchor="end" font-size="22">1</text>
<rect x="628.1" y="249" width="393.4" height="155.6" fill="none" stroke="#262626" stroke-width="1.4"/>
<path d="M706.8 404.6V400.1M706.8 249V253.5M785.5 404.6V400.1M785.5 249V253.5M864.1 404.6V400.1M864.1 249V253.5M942.8 404.6V400.1M942.8 249V253.5M628.1 326.8H632.6M1021.5 326.8H1017" stroke="#262626" stroke-width="1.3" fill="none"/>
<clipPath id="cr1"><rect x="627.4" y="248.5" width="394.9" height="157.4"/></clipPath>
<path clip-path="url(#cr1)" d="M628.6 355.6V405.6M629.6 377.4V405.6M630.6 362.6V405.6M631.6 381.5V405.6M632.6 372.3V405.6M633.6 336.1V405.6M634.6 375.2V405.6M635.6 362.4V405.6M636.6 371.3V405.6M637.6 381.5V405.6M638.6 357.1V405.6M639.6 357.8V405.6M640.6 358.7V405.6M641.6 381.5V405.6M642.6 381.1V405.6M643.6 373.2V405.6M644.6 376.8V405.6M645.6 370.6V405.6M646.6 375.6V405.6M647.6 381.1V405.6M648.6 371.4V405.6M649.6 365.1V405.6M650.6 381.9V405.6M651.6 357.2V405.6M652.6 332.2V405.6M653.6 381V405.6M654.6 378.9V405.6M655.6 377.9V405.6M656.6 363.1V405.6M657.6 369.2V405.6M658.6 322.9V405.6M659.6 359.1V405.6M660.6 381.2V405.6M661.6 371.1V405.6M662.6 342.4V405.6M663.6 376.3V405.6M664.6 383.9V405.6M665.6 367V405.6M666.6 354.7V405.6M667.6 380.3V405.6M668.6 367.8V405.6M669.6 336.1V405.6M670.6 371.2V405.6M671.6 378.8V405.6M672.6 350.9V405.6M673.6 351.4V405.6M674.6 349.1V405.6M675.6 369.1V405.6M676.6 355V405.6M677.6 354.7V405.6M678.6 350.9V405.6M679.6 379.6V405.6M680.6 343.3V405.6M681.6 334.6V405.6M682.6 381.5V405.6M683.6 355.6V405.6M684.6 363.6V405.6M685.6 345.7V405.6M686.6 372V405.6M687.6 346.5V405.6M688.6 372.5V405.6M689.6 384.4V405.6M690.6 376V405.6M691.6 356.7V405.6M692.6 380.7V405.6M693.6 336.1V405.6M694.6 382.9V405.6M695.6 356.7V405.6M696.6 367V405.6M697.6 367.9V405.6M698.6 378.4V405.6M699.6 350.6V405.6M700.6 368.7V405.6M701.6 362.6V405.6M702.6 376.3V405.6M703.6 371.3V405.6M704.6 334.6V405.6M705.6 361.6V405.6M706.6 361.9V405.6M707.6 376V405.6M708.6 364.5V405.6M709.6 366.1V405.6M710.6 342.2V405.6M711.6 367V405.6M712.6 362.1V405.6M713.6 343V405.6M714.6 359.8V405.6M715.6 346.4V405.6M716.6 375.1V405.6M717.6 349.4V405.6M718.6 370.8V405.6M719.6 368.4V405.6M720.6 381.8V405.6M721.6 375.3V405.6M722.6 340V405.6M723.6 365.4V405.6M724.6 378.4V405.6M725.6 383.4V405.6M726.6 365.3V405.6M727.6 359.1V405.6M728.6 376.9V405.6M729.6 376.6V405.6M730.6 374.6V405.6M731.6 373.5V405.6M732.6 356.2V405.6M733.6 370.2V405.6M734.6 354.3V405.6M735.6 353.6V405.6M736.6 383.8V405.6M737.6 373.1V405.6M738.6 377.5V405.6M739.6 351.7V405.6M740.6 371.2V405.6M741.6 326.8V405.6M742.6 372.3V405.6M743.6 363.3V405.6M744.6 360V405.6M745.6 350V405.6M746.6 371.4V405.6M747.6 353.5V405.6M748.6 369.1V405.6M749.6 359.2V405.6M750.6 367.5V405.6M751.6 377.4V405.6M752.6 374.1V405.6M753.6 368.8V405.6M754.6 336.1V405.6M755.6 362V405.6M756.6 380.6V405.6M757.6 378.8V405.6M758.6 361.7V405.6M759.6 375.5V405.6M760.6 381.6V405.6M761.6 367.1V405.6M762.6 378V405.6M763.6 362V405.6M764.6 361.9V405.6M765.6 362.4V405.6M766.6 382.4V405.6M767.6 380.5V405.6M768.6 360.3V405.6M769.6 373V405.6M770.6 384.8V405.6M771.6 373V405.6M772.6 355.1V405.6M773.6 377.8V405.6M774.6 379.2V405.6M775.6 380.4V405.6M776.6 361V405.6M777.6 371.3V405.6M778.6 368.7V405.6M779.6 333V405.6M780.6 367.1V405.6M781.6 370.8V405.6M782.6 377.6V405.6M783.6 363.2V405.6M784.6 360.7V405.6M785.6 353.8V405.6M786.6 379.1V405.6M787.6 376.8V405.6M788.6 373.9V405.6M789.6 373.2V405.6M790.6 380.1V405.6M791.6 380.7V405.6M792.6 334.6V405.6M793.6 381V405.6M794.6 380.7V405.6M795.6 356.8V405.6M796.6 359.3V405.6M797.6 377V405.6M798.6 368.7V405.6M799.6 358V405.6M800.6 369.7V405.6M801.6 377.1V405.6M802.6 365.6V405.6M803.6 370.6V405.6M804.6 374.1V405.6M805.6 356.3V405.6M806.6 358.5V405.6M807.6 361.7V405.6M808.6 366.1V405.6M809.6 322.9V405.6M810.6 365.7V405.6M811.6 369.9V405.6M812.6 347.4V405.6M813.6 300.3V405.6M814.6 373.9V405.6M815.6 380.4V405.6M816.6 344.9V405.6M817.6 363.9V405.6M818.6 303.5V405.6M819.6 346.5V405.6M820.6 364.7V405.6M821.6 365.3V405.6M822.6 379.2V405.6M823.6 351V405.6M824.6 358.4V405.6M825.6 315.1V405.6M826.6 366V405.6M827.6 365V405.6M828.6 356.4V405.6M829.6 336.1V405.6M830.6 375.7V405.6M831.6 358.7V405.6M832.6 350.6V405.6M833.6 347.8V405.6M834.6 379.3V405.6M835.6 266.1V405.6M836.6 370.6V405.6M837.6 377.9V405.6M838.6 365.9V405.6M839.6 369.8V405.6M840.6 351.1V405.6M841.6 317.5V405.6M842.6 382.2V405.6M843.6 381.6V405.6M844.6 355.7V405.6M845.6 371.4V405.6M846.6 357.5V405.6M847.6 373.9V405.6M848.6 378.2V405.6M849.6 357.9V405.6M850.6 357.8V405.6M851.6 383.2V405.6M852.6 374.7V405.6M853.6 368.9V405.6M854.6 359.1V405.6M855.6 362.9V405.6M856.6 378.1V405.6M857.6 383.8V405.6M858.6 367.7V405.6M859.6 368.9V405.6M860.6 359.6V405.6M861.6 355.2V405.6M862.6 365.8V405.6M863.6 363V405.6M864.6 358.3V405.6M865.6 374.7V405.6M866.6 355.8V405.6M867.6 354.2V405.6M868.6 355V405.6M869.6 357V405.6M870.6 368V405.6M871.6 384.2V405.6M872.6 369.3V405.6M873.6 368V405.6M874.6 385.8V405.6M875.6 376.8V405.6M876.6 375.7V405.6M877.6 377.8V405.6M878.6 366.9V405.6M879.6 357.7V405.6M880.6 356.8V405.6M881.6 379.9V405.6M882.6 369.9V405.6M883.6 354.6V405.6M884.6 360.7V405.6M885.6 372.3V405.6M886.6 359.1V405.6M887.6 351.7V405.6M888.6 351.6V405.6M889.6 361.8V405.6M890.6 370.3V405.6M891.6 378.2V405.6M892.6 338.5V405.6M893.6 369.6V405.6M894.6 369.7V405.6M895.6 356.6V405.6M896.6 348.4V405.6M897.6 376.1V405.6M898.6 374.8V405.6M899.6 334.6V405.6M900.6 381.5V405.6M901.6 372.1V405.6M902.6 369.9V405.6M903.6 338.5V405.6M904.6 356.4V405.6M905.6 372.1V405.6M906.6 343.5V405.6M907.6 368.3V405.6M908.6 344.5V405.6M909.6 352.2V405.6M910.6 360.8V405.6M911.6 375.2V405.6M912.6 325.2V405.6M913.6 345.3V405.6M914.6 346.4V405.6M915.6 376.5V405.6M916.6 373.8V405.6M917.6 375V405.6M918.6 350.2V405.6M919.6 294.1V405.6M920.6 377.5V405.6M921.6 382.9V405.6M922.6 319V405.6M923.6 367.5V405.6M924.6 382.2V405.6M925.6 357.5V405.6M926.6 368.5V405.6M927.6 358.8V405.6M928.6 353V405.6M929.6 382.1V405.6M930.6 370.9V405.6M931.6 363V405.6M932.6 366.6V405.6M933.6 353.8V405.6M934.6 377.5V405.6M935.6 376.8V405.6M936.6 361.6V405.6M937.6 366.2V405.6M938.6 372.6V405.6M939.6 370.7V405.6M940.6 381.8V405.6M941.6 327.6V405.6M942.6 366V405.6M943.6 375.1V405.6M944.6 372.3V405.6M945.6 382.5V405.6M946.6 380.2V405.6M947.6 373.5V405.6M948.6 368.8V405.6M949.6 377V405.6M950.6 374.7V405.6M951.6 373.4V405.6M952.6 326.8V405.6M953.6 354.1V405.6M954.6 362.1V405.6M955.6 290.2V405.6M956.6 361.7V405.6M957.6 378.1V405.6M958.6 377.6V405.6M959.6 372.8V405.6M960.6 371.6V405.6M961.6 355.5V405.6M962.6 362.2V405.6M963.6 372.2V405.6M964.6 375.8V405.6M965.6 376.1V405.6M966.6 379.3V405.6M967.6 366.8V405.6M968.6 355.7V405.6M969.6 365.8V405.6M970.6 368.5V405.6M971.6 370.5V405.6M972.6 378.6V405.6M973.6 323.7V405.6M974.6 363.7V405.6M975.6 362.6V405.6M976.6 362V405.6M977.6 370.2V405.6M978.6 363.2V405.6M979.6 382.3V405.6M980.6 365V405.6M981.6 362.5V405.6M982.6 366.4V405.6M983.6 365V405.6M984.6 377V405.6M985.6 380.5V405.6M986.6 368.8V405.6M987.6 339.2V405.6M988.6 361.2V405.6M989.6 365.9V405.6M990.6 378.7V405.6M991.6 371.6V405.6M992.6 358.1V405.6M993.6 380.9V405.6M994.6 363.7V405.6M995.6 322.1V405.6M996.6 379V405.6M997.6 361.1V405.6M998.6 367.3V405.6M999.6 369.6V405.6M1000.6 370.9V405.6M1001.6 372.5V405.6M1002.6 359.1V405.6M1003.6 383.8V405.6M1004.6 359.6V405.6M1005.6 365.9V405.6M1006.6 376V405.6M1007.6 360.1V405.6M1008.6 377.7V405.6M1009.6 359.4V405.6M1010.6 378.1V405.6M1011.6 373.1V405.6M1012.6 357.4V405.6M1013.6 367.9V405.6M1014.6 379.8V405.6M1015.6 376.7V405.6M1016.6 351.9V405.6M1017.6 381.7V405.6M1018.6 378.6V405.6M1019.6 311.2V405.6M1020.6 380.9V405.6" stroke="#0072BD" stroke-width="1.5" fill="none"/>
<text x="628.1" y="430.9" text-anchor="middle" font-size="22">0</text>
<text x="706.8" y="430.9" text-anchor="middle" font-size="22">1</text>
<text x="785.5" y="430.9" text-anchor="middle" font-size="22">2</text>
<text x="864.1" y="430.9" text-anchor="middle" font-size="22">3</text>
<text x="942.8" y="430.9" text-anchor="middle" font-size="22">4</text>
<text x="1021.5" y="430.9" text-anchor="middle" font-size="22">5</text>
<text x="621.8" y="412.9" text-anchor="end" font-size="22">0</text>
<text x="621.8" y="335.1" text-anchor="end" font-size="22">0.1</text>
<text x="621.8" y="257.3" text-anchor="end" font-size="22">0.2</text>
<text x="-0.5" y="344.8" font-size="28" style="fill:#000">IRF</text>
<text transform="translate(80 327.6) rotate(-90)" text-anchor="middle" font-size="25">Amp.(m/s<tspan dy="-12" font-size="19">2</tspan><tspan dy="12">)</tspan></text>
<text transform="translate(587.7 327.6) rotate(-90)" text-anchor="middle" font-size="25">Amp.(m/s<tspan dy="-12" font-size="19">2</tspan><tspan dy="12">)</tspan></text>
<path d="M972.9 452.7L983.4 462.6M983.4 452.7L972.9 462.6" stroke="#262626" stroke-width="1.3" fill="none"/>
<text x="988.2" y="462.9" font-size="22">10</text>
<text x="1011" y="453.7" font-size="18">4</text>
<rect x="112.2" y="491.5" width="391.9" height="153.5" fill="none" stroke="#262626" stroke-width="1.4"/>
<path d="M190.6 645V640.5M190.6 491.5V496M268.9 645V640.5M268.9 491.5V496M347.3 645V640.5M347.3 491.5V496M425.7 645V640.5M425.7 491.5V496M112.2 568.3H116.7M504.1 568.3H499.6" stroke="#262626" stroke-width="1.3" fill="none"/>
<clipPath id="cl2"><rect x="111.5" y="491" width="393.4" height="155.3"/></clipPath>
<path clip-path="url(#cl2)" d="M112.7 520.3V584.8M113.7 528V598.1M114.7 537.6V591.4M115.7 532.9V599M116.7 517.6V591M117.7 520.8V588.2M118.7 528.2V602.8M119.7 534V594.9M120.7 535.5V596.7M121.7 531.8V604.3M122.7 534.6V589.1M123.7 529.5V587.9M124.7 525V592.7M125.7 527.2V586.2M126.7 526.1V604.8M127.7 534.5V590.2M128.7 515.8V594.3M129.7 523.8V597.7M130.7 529.1V598.1M131.7 517.6V591M132.7 515.4V594.5M133.7 530.5V597.9M134.7 515.6V593.2M135.7 519.7V592.3M136.7 536.9V594.8M137.7 540.1V592.2M138.7 518.2V636.6M139.7 527.8V602.9M140.7 530V591.8M141.7 529.8V600.5M142.7 540.6V597.3M143.7 529.3V591.6M144.7 536V597M145.7 531.2V606.7M146.7 535V592M147.7 515.3V586.3M148.7 535.2V590.9M149.7 530.3V591.2M150.7 541.9V592.5M151.7 535V597M152.7 528.3V602M153.7 538.8V598.1M154.7 528.7V592.9M155.7 535.9V598M156.7 535.3V588.8M157.7 514.5V586M158.7 530.8V588.9M159.7 537.7V600.9M160.7 536.2V608.2M161.7 521.6V590.4M162.7 531.3V598.8M163.7 530.8V589.2M164.7 517.7V579.9M165.7 531V593.1M166.7 533.5V590.8M167.7 524.6V592.2M168.7 523.8V595.7M169.7 529.7V587.1M170.7 531.3V587.6M171.7 527.6V585.2M172.7 531.4V590.5M173.7 511.5V594M174.7 529V600.5M175.7 540.7V590.3M176.7 533.9V588.7M177.7 529.6V592.7M178.7 513V588.5M179.7 532V590.1M180.7 531.8V591.9M181.7 533.1V592.8M182.7 531.1V604.3M183.7 511.5V635.8M184.7 526.8V592.1M185.7 535.4V597.4M186.7 530.9V594.4M187.7 537V593.5M188.7 513.8V608.8M189.7 540V601.1M190.7 533.8V583.9M191.7 537.8V597.6M192.7 538.5V602.4M193.7 526.8V593.1M194.7 536.1V591.7M195.7 534.6V599.2M196.7 523.2V591.6M197.7 537V599.5M198.7 530V590.7M199.7 528V589.8M200.7 532.7V590.3M201.7 532.6V591.9M202.7 530V591.1M203.7 539.2V587.1M204.7 528.4V584M205.7 535.8V602.1M206.7 539.2V589.9M207.7 509.2V586M208.7 538.3V588.1M209.7 521.5V588M210.7 529.9V598.3M211.7 533.9V601M212.7 530.3V587.3M213.7 535.8V598.4M214.7 529.7V589.9M215.7 521.9V592.4M216.7 515.8V591.8M217.7 518.7V588M218.7 527.6V584.6M219.7 533.8V593.2M220.7 517.8V582.7M221.7 527.8V591.5M222.7 533.1V590.3M223.7 519.4V585.4M224.7 532.6V587.2M225.7 532.9V588.6M226.7 531.7V591.3M227.7 532.2V587.4M228.7 495.3V641.7M229.7 540.6V596.4M230.7 539V582.7M231.7 530.8V591.3M232.7 525V588M233.7 530.9V594.2M234.7 535.3V602M235.7 517.6V601.6M236.7 526.6V600M237.7 542.1V582.7M238.7 541.4V593.4M239.7 527.2V601.4M240.7 530.4V597M241.7 528.4V589.1M242.7 518V587.4M243.7 528.2V596.5M244.7 519.6V589.7M245.7 524.2V605.1M246.7 523.3V590.5M247.7 514.5V593.6M248.7 529.7V593.7M249.7 529V608.2M250.7 535.1V591.2M251.7 527.3V591.6M252.7 537.4V592.8M253.7 530.9V592.4M254.7 527.8V588.8M255.7 538.2V585M256.7 533.5V583.9M257.7 525.6V597.3M258.7 535V592.5M259.7 538.3V594.1M260.7 522.3V594.9M261.7 531V592.5M262.7 537.4V600.7M263.7 537V593.1M264.7 516.8V592.4M265.7 524.6V588.9M266.7 528.2V592.2M267.7 530.3V597.1M268.7 525.7V596.9M269.7 532.9V587.8M270.7 530.1V591M271.7 518.9V595.6M272.7 527.2V599M273.7 493.8V627.4M274.7 533.2V591.1M275.7 536V586M276.7 545.3V587.8M277.7 538.2V602.6M278.7 536.7V591.2M279.7 534.8V598.4M280.7 539.7V585.2M281.7 532.8V583.5M282.7 535.7V594.8M283.7 532.7V589.9M284.7 536.3V592.2M285.7 534.5V588.5M286.7 532.3V588.5M287.7 532.3V590.8M288.7 537.8V586.7M289.7 540.6V589.6M290.7 533.4V590.3M291.7 531.7V589.8M292.7 529V590M293.7 533.6V592.3M294.7 504.6V599.4M295.7 530V592.2M296.7 525.1V585.2M297.7 531.1V594.2M298.7 532.4V590.9M299.7 529.4V588.9M300.7 532.4V588.5M301.7 516.1V605.1M302.7 516.8V605.1M303.7 534.1V594.5M304.7 532.4V596.1M305.7 540.2V602M306.7 533.1V590.7M307.7 533V595.3M308.7 535.3V592.2M309.7 530.2V592.6M310.7 524.1V595.3M311.7 533.8V590.2M312.7 514.5V592.7M313.7 537.1V594M314.7 526.4V604.4M315.7 539.2V582.6M316.7 535.5V594.9M317.7 531V593.1M318.7 494.6V645M319.7 533.2V595.2M320.7 524V581.9M321.7 531.3V587.3M322.7 528.5V587.5M323.7 522.3V587.7M324.7 522.4V606.7M325.7 535.1V580.4M326.7 532V584.3M327.7 531.4V585.6M328.7 536.1V584.1M329.7 522.5V583.7M330.7 540.3V583.4M331.7 536.8V588.3M332.7 534.1V586.8M333.7 532.5V585.6M334.7 538.1V584.8M335.7 531.3V587M336.7 532.5V590.2M337.7 537.2V594.2M338.7 528.1V599M339.7 537V583.4M340.7 533.9V608.2M341.7 533.8V588.9M342.7 542V589M343.7 531.7V587.3M344.7 529.8V587M345.7 533.8V587.8M346.7 541.4V591.1M347.7 530.9V587.6M348.7 524.4V588.5M349.7 526.8V598.9M350.7 523.8V587.9M351.7 533.9V591.8M352.7 541.4V601M353.7 541.8V592.7M354.7 529.6V593.9M355.7 515V590.7M356.7 530.7V599.8M357.7 511.5V591.2M358.7 520.9V598.3M359.7 517.3V588.1M360.7 525.2V587.4M361.7 514.8V597.2M362.7 513.4V587M363.7 514.3V585.5M364.7 519.5V608.2M365.7 511.5V588.6M366.7 524.1V594.3M367.7 524.1V596.8M368.7 529.3V602.1M369.7 513.3V592M370.7 524.3V597.3M371.7 524.8V590M372.7 526.9V589.3M373.7 529.5V589.2M374.7 513.8V591.8M375.7 533V592M376.7 529.7V593.4M377.7 529.6V599.5M378.7 536.6V593M379.7 529.2V589.1M380.7 534.9V591.5M381.7 540.1V592.3M382.7 538.1V605.2M383.7 527.4V588.4M384.7 533.2V605.6M385.7 536.8V592.6M386.7 522.5V593.1M387.7 511.5V603.3M388.7 529.5V596.7M389.7 535.4V599.8M390.7 524.5V583.5M391.7 529.6V605.3M392.7 531V604.4M393.7 530.4V589.6M394.7 525.6V587.6M395.7 533.9V596.5M396.7 533.7V587.8M397.7 539.4V596.5M398.7 532.5V594.1M399.7 537.1V588M400.7 533.5V589.4M401.7 544.1V589.5M402.7 530V591.6M403.7 535.7V599.3M404.7 539.1V590.5M405.7 540V586.7M406.7 539.4V598.4M407.7 533.2V595.4M408.7 496.9V589.3M409.7 535.7V635.8M410.7 514.5V594.7M411.7 497.6V591.3M412.7 529.4V597.6M413.7 533.8V592.3M414.7 531.2V593M415.7 528.6V595.6M416.7 532.9V592.1M417.7 529.8V590.5M418.7 539.3V601.1M419.7 527.7V589.8M420.7 537.4V589.3M421.7 537.1V605.1M422.7 537.3V595.9M423.7 539.3V586.2M424.7 527.3V593.8M425.7 536.1V582.4M426.7 513V594.7M427.7 527.6V600.8M428.7 528.4V590.9M429.7 509.2V590.1M430.7 523.8V600.7M431.7 530.8V593.7M432.7 538V594.7M433.7 530.8V602.8M434.7 535.7V587.3M435.7 535.2V586.7M436.7 540.1V599.4M437.7 531.2V590.7M438.7 528.1V586.2M439.7 537.3V601.8M440.7 536.6V590.4M441.7 533.4V582.1M442.7 536.5V587.8M443.7 535V586.7M444.7 532.9V590.3M445.7 531.4V592.4M446.7 524.1V585.7M447.7 524.6V590.1M448.7 526.9V596.7M449.7 526V595M450.7 538.5V587.5M451.7 520.8V587.7M452.7 533.1V583.5M453.7 535.5V593.3M454.7 491.5V611.3M455.7 535.4V606.7M456.7 526.7V589.2M457.7 533.6V594.5M458.7 497.6V601M459.7 516.6V591.2M460.7 523.1V590.4M461.7 526.5V601.4M462.7 528.3V591.6M463.7 535V602.4M464.7 515.6V603.4M465.7 523V596.2M466.7 523.9V588.1M467.7 526.9V592.1M468.7 528.8V605.7M469.7 526.3V603.5M470.7 529.7V589.5M471.7 523.2V594.5M472.7 533.8V603M473.7 529.9V602.1M474.7 531.3V598.5M475.7 518.6V606.7M476.7 529.1V597.1M477.7 523.6V590M478.7 532.1V593M479.7 529.4V584.4M480.7 516.1V586.4M481.7 530.8V594.2M482.7 527.2V596.3M483.7 527.8V594.2M484.7 518.4V590.1M485.7 522.8V588.6M486.7 527V608.2M487.7 535V586.6M488.7 537.5V593.5M489.7 530.5V585.9M490.7 523.7V588.3M491.7 529.9V588.5M492.7 529.1V586.3M493.7 522.9V598.3M494.7 535.3V608.2M495.7 531.6V597.5M496.7 516.5V585.3M497.7 536.1V589.2M498.7 525V587.4M499.7 499.2V640.1M500.7 541.7V596.8M501.7 533.4V593M502.7 518.7V602.7M503.7 523.4V592.8" stroke="#0072BD" stroke-width="1.5" fill="none"/>
<text x="112.2" y="671.3" text-anchor="middle" font-size="22">0</text>
<text x="190.6" y="671.3" text-anchor="middle" font-size="22">0.02</text>
<text x="268.9" y="671.3" text-anchor="middle" font-size="22">0.04</text>
<text x="347.3" y="671.3" text-anchor="middle" font-size="22">0.06</text>
<text x="425.7" y="671.3" text-anchor="middle" font-size="22">0.08</text>
<text x="504.1" y="671.3" text-anchor="middle" font-size="22">0.1</text>
<text x="105" y="653.3" text-anchor="end" font-size="22">-1</text>
<text x="105" y="576.6" text-anchor="end" font-size="22">0</text>
<text x="105" y="499.8" text-anchor="end" font-size="22">1</text>
<rect x="628.1" y="491.5" width="393.4" height="153.5" fill="none" stroke="#262626" stroke-width="1.4"/>
<path d="M706.8 645V640.5M706.8 491.5V496M785.5 645V640.5M785.5 491.5V496M864.1 645V640.5M864.1 491.5V496M942.8 645V640.5M942.8 491.5V496M628.1 568.3H632.6M1021.5 568.3H1017" stroke="#262626" stroke-width="1.3" fill="none"/>
<clipPath id="cr2"><rect x="627.4" y="491" width="394.9" height="155.3"/></clipPath>
<path clip-path="url(#cr2)" d="M628.6 609V646M629.6 609V646M630.6 629V646M631.6 554.8V646M632.6 624.8V646M633.6 613.4V646M634.6 623V646M635.6 598.5V646M636.6 622.3V646M637.6 605.4V646M638.6 597.1V646M639.6 626V646M640.6 604.8V646M641.6 630.4V646M642.6 620.7V646M643.6 623.2V646M644.6 621.5V646M645.6 612.4V646M646.6 628.9V646M647.6 603.3V646M648.6 619.8V646M649.6 622.4V646M650.6 610.7V646M651.6 624.1V646M652.6 629.7V646M653.6 623.9V646M654.6 620.6V646M655.6 617.8V646M656.6 577.9V646M657.6 627.7V646M658.6 626.2V646M659.6 612.3V646M660.6 628.9V646M661.6 630V646M662.6 621.7V646M663.6 606.2V646M664.6 601.6V646M665.6 616.7V646M666.6 626.2V646M667.6 613.5V646M668.6 628.4V646M669.6 601.3V646M670.6 591.3V646M671.6 607.8V646M672.6 604.7V646M673.6 627.5V646M674.6 616.3V646M675.6 602.8V646M676.6 632.3V646M677.6 596.5V646M678.6 606.9V646M679.6 616.4V646M680.6 623.8V646M681.6 628.5V646M682.6 631V646M683.6 613.9V646M684.6 602.4V646M685.6 602.1V646M686.6 591.3V646M687.6 601.3V646M688.6 600.6V646M689.6 618.8V646M690.6 598.8V646M691.6 606.6V646M692.6 605.9V646M693.6 619.3V646M694.6 622.1V646M695.6 585.5V646M696.6 613.2V646M697.6 592.5V646M698.6 613.2V646M699.6 601.7V646M700.6 617.5V646M701.6 585.5V646M702.6 624.7V646M703.6 600.9V646M704.6 591.2V646M705.6 616.8V646M706.6 610.5V646M707.6 625.4V646M708.6 626.2V646M709.6 627.9V646M710.6 619.5V646M711.6 561V646M712.6 613.8V646M713.6 620.5V646M714.6 611.4V646M715.6 623.6V646M716.6 617V646M717.6 617V646M718.6 628.9V646M719.6 627.7V646M720.6 620.6V646M721.6 620.8V646M722.6 623.7V646M723.6 629.8V646M724.6 624V646M725.6 624.3V646M726.6 627.8V646M727.6 600.4V646M728.6 607.1V646M729.6 622V646M730.6 623.6V646M731.6 617.1V646M732.6 619.2V646M733.6 623.1V646M734.6 568.3V646M735.6 618.4V646M736.6 621.1V646M737.6 596.1V646M738.6 606.6V646M739.6 618.2V646M740.6 616.7V646M741.6 630.3V646M742.6 598.1V646M743.6 627.5V646M744.6 610.6V646M745.6 601.8V646M746.6 632V646M747.6 615V646M748.6 620.6V646M749.6 587.5V646M750.6 609.6V646M751.6 626.2V646M752.6 625.8V646M753.6 621V646M754.6 607.2V646M755.6 628.9V646M756.6 623.9V646M757.6 621.3V646M758.6 607.2V646M759.6 620.6V646M760.6 629.1V646M761.6 621.6V646M762.6 606.1V646M763.6 614.3V646M764.6 589.4V646M765.6 602.4V646M766.6 620V646M767.6 589.2V646M768.6 617.1V646M769.6 604.9V646M770.6 621.1V646M771.6 629.3V646M772.6 614.1V646M773.6 598V646M774.6 620.6V646M775.6 599.6V646M776.6 629.1V646M777.6 622.3V646M778.6 618.5V646M779.6 614.2V646M780.6 628.4V646M781.6 625.3V646M782.6 599.9V646M783.6 595.1V646M784.6 599.1V646M785.6 611.3V646M786.6 613.6V646M787.6 620.2V646M788.6 617V646M789.6 627.1V646M790.6 615.8V646M791.6 593.7V646M792.6 614.3V646M793.6 593.9V646M794.6 568.3V646M795.6 618.4V646M796.6 621.4V646M797.6 624V646M798.6 617.2V646M799.6 616V646M800.6 600.1V646M801.6 627V646M802.6 608.3V646M803.6 584.1V646M804.6 610.6V646M805.6 622.4V646M806.6 618.7V646M807.6 598.7V646M808.6 605.8V646M809.6 622.5V646M810.6 615.8V646M811.6 614.2V646M812.6 614.8V646M813.6 579.8V646M814.6 600.4V646M815.6 586.3V646M816.6 563.4V646M817.6 541.4V646M818.6 499.2V646M819.6 602.2V646M820.6 549.1V646M821.6 493.4V646M822.6 545.2V646M823.6 613.5V646M824.6 572.2V646M825.6 550.4V646M826.6 587V646M827.6 581.9V646M828.6 579.8V646M829.6 593.1V646M830.6 598.5V646M831.6 605.6V646M832.6 601.3V646M833.6 594.6V646M834.6 627V646M835.6 572.1V646M836.6 614.3V646M837.6 613.6V646M838.6 587.5V646M839.6 594.4V646M840.6 596.2V646M841.6 617.9V646M842.6 595.3V646M843.6 612.5V646M844.6 611.1V646M845.6 583.6V646M846.6 611.6V646M847.6 618.9V646M848.6 605.8V646M849.6 617V646M850.6 627.4V646M851.6 576V646M852.6 624.1V646M853.6 601.2V646M854.6 616.3V646M855.6 605.6V646M856.6 587.5V646M857.6 587.7V646M858.6 619.2V646M859.6 622.4V646M860.6 605.1V646M861.6 588.3V646M862.6 601.9V646M863.6 606.2V646M864.6 591.3V646M865.6 594.2V646M866.6 596.2V646M867.6 625.9V646M868.6 611.2V646M869.6 621.6V646M870.6 616.1V646M871.6 616.7V646M872.6 613.7V646M873.6 630.1V646M874.6 621.8V646M875.6 607.6V646M876.6 585.5V646M877.6 613.5V646M878.6 629.8V646M879.6 627V646M880.6 625.4V646M881.6 624V646M882.6 629V646M883.6 620.6V646M884.6 624.5V646M885.6 613.3V646M886.6 619V646M887.6 589.4V646M888.6 626.6V646M889.6 601.4V646M890.6 628.2V646M891.6 618V646M892.6 626.7V646M893.6 626V646M894.6 616.3V646M895.6 621.8V646M896.6 626.1V646M897.6 626.2V646M898.6 627.8V646M899.6 616.3V646M900.6 621.4V646M901.6 615.3V646M902.6 617.7V646M903.6 625V646M904.6 621.7V646M905.6 620.8V646M906.6 585.5V646M907.6 626.6V646M908.6 611.6V646M909.6 610.4V646M910.6 601.5V646M911.6 611.3V646M912.6 624.5V646M913.6 613V646M914.6 604.5V646M915.6 620.7V646M916.6 627.8V646M917.6 626.1V646M918.6 619.2V646M919.6 618.9V646M920.6 624.8V646M921.6 624.8V646M922.6 628.4V646M923.6 619.1V646M924.6 616.7V646M925.6 621.7V646M926.6 628.5V646M927.6 617.6V646M928.6 628.6V646M929.6 595.1V646M930.6 612.5V646M931.6 621.4V646M932.6 598.6V646M933.6 602.3V646M934.6 623.2V646M935.6 616.4V646M936.6 627.8V646M937.6 630.3V646M938.6 628.1V646M939.6 617.1V646M940.6 624.4V646M941.6 628.9V646M942.6 629.5V646M943.6 617.8V646M944.6 604.1V646M945.6 629.2V646M946.6 618.7V646M947.6 631.5V646M948.6 629V646M949.6 565.2V646M950.6 619.1V646M951.6 615V646M952.6 626.1V646M953.6 620.2V646M954.6 607.9V646M955.6 595.4V646M956.6 612.6V646M957.6 619.4V646M958.6 629.4V646M959.6 609V646M960.6 616.4V646M961.6 595.9V646M962.6 618.4V646M963.6 595.1V646M964.6 618.7V646M965.6 626.5V646M966.6 625.7V646M967.6 603.8V646M968.6 613V646M969.6 627.9V646M970.6 618.8V646M971.6 626.7V646M972.6 616.3V646M973.6 623.1V646M974.6 625.9V646M975.6 630V646M976.6 615.7V646M977.6 625.4V646M978.6 621.6V646M979.6 613.2V646M980.6 611.5V646M981.6 587.5V646M982.6 631.1V646M983.6 631V646M984.6 620.5V646M985.6 616.9V646M986.6 629.7V646M987.6 632.6V646M988.6 617.8V646M989.6 618.1V646M990.6 627.4V646M991.6 608.5V646M992.6 607.6V646M993.6 624V646M994.6 615V646M995.6 633.2V646M996.6 625.8V646M997.6 633V646M998.6 613.7V646M999.6 617.1V646M1000.6 616.3V646M1001.6 566.4V646M1002.6 619V646M1003.6 628V646M1004.6 608.2V646M1005.6 629.2V646M1006.6 613.1V646M1007.6 623V646M1008.6 601.8V646M1009.6 602.4V646M1010.6 623.7V646M1011.6 623.5V646M1012.6 614.3V646M1013.6 620.4V646M1014.6 604.4V646M1015.6 631.4V646M1016.6 620V646M1017.6 618V646M1018.6 599V646M1019.6 598.3V646M1020.6 621.3V646" stroke="#0072BD" stroke-width="1.5" fill="none"/>
<text x="628.1" y="671.3" text-anchor="middle" font-size="22">0</text>
<text x="706.8" y="671.3" text-anchor="middle" font-size="22">1</text>
<text x="785.5" y="671.3" text-anchor="middle" font-size="22">2</text>
<text x="864.1" y="671.3" text-anchor="middle" font-size="22">3</text>
<text x="942.8" y="671.3" text-anchor="middle" font-size="22">4</text>
<text x="1021.5" y="671.3" text-anchor="middle" font-size="22">5</text>
<text x="621.8" y="653.3" text-anchor="end" font-size="22">0</text>
<text x="621.8" y="576.6" text-anchor="end" font-size="22">0.2</text>
<text x="621.8" y="499.8" text-anchor="end" font-size="22">0.4</text>
<text x="-0.7" y="586.3" font-size="28" style="fill:#000">ORF</text>
<text transform="translate(80 569.1) rotate(-90)" text-anchor="middle" font-size="25">Amp.(m/s<tspan dy="-12" font-size="19">2</tspan><tspan dy="12">)</tspan></text>
<text transform="translate(587.7 569.1) rotate(-90)" text-anchor="middle" font-size="25">Amp.(m/s<tspan dy="-12" font-size="19">2</tspan><tspan dy="12">)</tspan></text>
<path d="M972.9 693.1L983.4 703M983.4 693.1L972.9 703" stroke="#262626" stroke-width="1.3" fill="none"/>
<text x="988.2" y="703.3" font-size="22">10</text>
<text x="1011" y="694.1" font-size="18">4</text>
<rect x="112.2" y="732.2" width="391.9" height="155.2" fill="none" stroke="#262626" stroke-width="1.4"/>
<path d="M190.6 887.4V882.9M190.6 732.2V736.7M268.9 887.4V882.9M268.9 732.2V736.7M347.3 887.4V882.9M347.3 732.2V736.7M425.7 887.4V882.9M425.7 732.2V736.7M112.2 809.8H116.7M504.1 809.8H499.6" stroke="#262626" stroke-width="1.3" fill="none"/>
<clipPath id="cl3"><rect x="111.5" y="731.7" width="393.4" height="156.9"/></clipPath>
<path clip-path="url(#cl3)" d="M112.7 790V830.4M113.7 789.1V830.9M114.7 793.8V831.3M115.7 792.6V833.3M116.7 796.5V836.2M117.7 788.9V838.5M118.7 793.5V834.6M119.7 781.2V854.8M120.7 775.7V826.4M121.7 782.4V833.8M122.7 782.9V829M123.7 789.9V831.6M124.7 789V834.1M125.7 784.2V832.1M126.7 786.4V828.7M127.7 785.2V833.2M128.7 790.6V831.4M129.7 781.3V850.9M130.7 787.1V835M131.7 775.6V834.8M132.7 787.7V833.5M133.7 778.1V826.8M134.7 783.4V834.3M135.7 765.9V833.7M136.7 785.8V841.3M137.7 789.6V837.3M138.7 780.4V831.7M139.7 789.3V839M140.7 785.5V837.8M141.7 785.1V833.6M142.7 788.4V828.6M143.7 786.2V848.6M144.7 781V837.4M145.7 794.7V829.7M146.7 795.5V840M147.7 771V831.9M148.7 793.2V829.2M149.7 783.7V829.2M150.7 795.4V838.6M151.7 788.5V830.6M152.7 789.9V834.6M153.7 784.5V839.3M154.7 779V826.5M155.7 794.9V832.6M156.7 793.3V834.3M157.7 781.6V835.9M158.7 792.4V826.1M159.7 794V849.4M160.7 787.6V836.3M161.7 776.9V825.8M162.7 790.2V831.9M163.7 785.2V832.6M164.7 790.3V831.7M165.7 787.7V839.8M166.7 788.4V834.2M167.7 783.3V832M168.7 774.9V830.5M169.7 784.2V827.7M170.7 777.2V829.4M171.7 793.6V832.5M172.7 779.3V836.2M173.7 789.2V828M174.7 788.6V857.1M175.7 786V837.6M176.7 783.1V835M177.7 785V829.5M178.7 788.5V839.2M179.7 783.2V837M180.7 783.3V836.3M181.7 784.8V829.6M182.7 785V833.9M183.7 776.9V832.6M184.7 791.1V831.8M185.7 793.7V834.9M186.7 788.8V833.5M187.7 791.9V835M188.7 794.4V826M189.7 790.3V832.1M190.7 776.4V834.8M191.7 787.7V829.4M192.7 791.5V836M193.7 785.6V829.5M194.7 789.9V831.1M195.7 791.9V836.3M196.7 792.1V828.8M197.7 792.4V839.6M198.7 788.5V831M199.7 792.6V835.1M200.7 789.7V835M201.7 781.1V831.8M202.7 790.1V831.3M203.7 789.9V834.6M204.7 795.9V840.4M205.7 790.5V833.6M206.7 791V829.4M207.7 791.5V830.7M208.7 768.7V832.4M209.7 793.6V831.4M210.7 782.3V852.2M211.7 780.6V832.1M212.7 784V839.3M213.7 784.6V834M214.7 776.9V834M215.7 779.8V829M216.7 788.4V835.3M217.7 781.8V832.5M218.7 786V847.8M219.7 790.1V842M220.7 786.6V836.9M221.7 784.5V830.3M222.7 789.2V835.9M223.7 773.5V839.2M224.7 780.1V832.2M225.7 787.5V840.8M226.7 790.9V834.2M227.7 788.1V840.3M228.7 782.8V837.7M229.7 780.3V837.4M230.7 789.2V847M231.7 790.5V831.3M232.7 786V834.3M233.7 792.4V833.7M234.7 784.9V830.3M235.7 778.7V838.5M236.7 788.7V832.1M237.7 785V835.5M238.7 780.1V834.5M239.7 783.8V840.4M240.7 789.9V832.5M241.7 777.1V832.2M242.7 794.7V826.5M243.7 790.1V835.4M244.7 787.8V850.9M245.7 774.9V831.6M246.7 787.7V836.2M247.7 792.7V832.5M248.7 791.3V831.2M249.7 791.9V837.1M250.7 789.5V835M251.7 787.4V839M252.7 788.5V837.3M253.7 783.5V832.8M254.7 790.6V831.8M255.7 789.2V846.3M256.7 787V831.1M257.7 781V836.5M258.7 783.3V840.3M259.7 785.3V829.5M260.7 785V829.5M261.7 787.9V834.8M262.7 782.1V827M263.7 786.8V836.5M264.7 789.8V830.2M265.7 783.6V836.8M266.7 791.8V839.9M267.7 793.2V832.9M268.7 789.2V832.3M269.7 791.7V833.8M270.7 794.7V831.7M271.7 790.2V832.3M272.7 788.7V836.5M273.7 791.1V832.3M274.7 794.4V842.6M275.7 788.7V835.6M276.7 791.6V834.5M277.7 786.2V832.1M278.7 787V839.4M279.7 792.4V830.9M280.7 790V829.6M281.7 793.6V847.8M282.7 792.1V831.5M283.7 761.7V830.2M284.7 785.6V832.2M285.7 790.4V827.7M286.7 785.2V831.6M287.7 774.9V834.7M288.7 796.3V830.9M289.7 786.7V829.3M290.7 783.4V833.9M291.7 787.1V829.8M292.7 785.3V828.6M293.7 782.5V835.7M294.7 782.8V839.2M295.7 791.5V839.2M296.7 787.2V830.7M297.7 792.1V839.8M298.7 791.2V829M299.7 791.2V840.1M300.7 792.9V835.7M301.7 793.1V836.5M302.7 789.2V833.5M303.7 792.9V835.3M304.7 792.2V838.7M305.7 788.2V833.2M306.7 787.7V833.2M307.7 794.7V833.1M308.7 778.7V829.9M309.7 798V836.4M310.7 794.4V822M311.7 788.3V832.9M312.7 771.8V834.8M313.7 779.1V847.8M314.7 775.6V835.6M315.7 789V829.4M316.7 786.6V832.4M317.7 776.5V834.5M318.7 792.1V842.8M319.7 779.9V839.3M320.7 787.5V831.2M321.7 767.1V850.9M322.7 780.7V839M323.7 791.1V836.6M324.7 773.3V830.6M325.7 791.1V835.6M326.7 785.4V848.6M327.7 789.9V829.9M328.7 794.1V834.7M329.7 792.2V829.5M330.7 789.2V834.1M331.7 777.2V830.2M332.7 790.9V838.1M333.7 791V830.8M334.7 785.6V832.1M335.7 791.2V829.2M336.7 789.3V832.4M337.7 788.1V835.9M338.7 787.9V836.7M339.7 783.8V834.3M340.7 786.7V842.4M341.7 788.5V835.6M342.7 780.8V833.5M343.7 788.3V837.2M344.7 732.2V887.4M345.7 778.1V844.1M346.7 783.1V829.6M347.7 784.6V834.2M348.7 776.6V844.3M349.7 781.5V838.6M350.7 791.7V839.7M351.7 786.3V831.2M352.7 789.3V834.1M353.7 781.9V855.6M354.7 789.7V841.9M355.7 787.3V832.5M356.7 785.5V843.7M357.7 779V835.5M358.7 790.8V831.9M359.7 778.3V834.6M360.7 782.9V838.1M361.7 790.6V834.1M362.7 789.9V835.4M363.7 783.5V836M364.7 792.9V826.9M365.7 788.9V844.2M366.7 785V837.5M367.7 791.9V843.6M368.7 788.5V832.3M369.7 788.4V834.9M370.7 782.4V838.3M371.7 786.5V837.5M372.7 800V838.2M373.7 787.7V833.7M374.7 779.9V831.6M375.7 767.9V833.2M376.7 780.9V830.9M377.7 775.5V837.4M378.7 785.6V832.6M379.7 787.2V832.4M380.7 775.7V826.8M381.7 791.6V823.3M382.7 783.5V839.3M383.7 780.6V832.8M384.7 789.8V831.9M385.7 772.6V826.9M386.7 778.7V833M387.7 788.6V835.4M388.7 783.2V832.6M389.7 784.7V831.7M390.7 780.6V833.4M391.7 783.8V834.2M392.7 790V835.2M393.7 786.6V832.2M394.7 794.1V834.3M395.7 795.4V831.8M396.7 793.1V831.9M397.7 792.5V841M398.7 788.6V830.9M399.7 796.5V834.6M400.7 792.4V828.7M401.7 791.7V830.8M402.7 798.8V838.9M403.7 784.4V834.8M404.7 795.7V837M405.7 790.5V837.6M406.7 776.4V834.6M407.7 791V834.2M408.7 782.8V828.9M409.7 790.1V829.7M410.7 789.8V842.2M411.7 789.3V835.9M412.7 779.1V835.7M413.7 793.7V830.7M414.7 783.5V852.5M415.7 788.3V832.8M416.7 785.7V831.6M417.7 796.5V833.1M418.7 784.2V835.9M419.7 796.9V835.5M420.7 787.3V836.9M421.7 794V832.6M422.7 791.6V843.5M423.7 798.3V839M424.7 791V845.4M425.7 791.5V827.8M426.7 794.1V837M427.7 790.6V838.2M428.7 761.7V857.9M429.7 789V838.4M430.7 784.5V833.4M431.7 785.7V837.4M432.7 788.6V833M433.7 773.2V827.1M434.7 787.6V840M435.7 783.4V841.4M436.7 773.3V828.9M437.7 786.6V834.3M438.7 791.1V832.2M439.7 779.6V837.1M440.7 770.1V838.4M441.7 776.4V828.8M442.7 786.7V850.9M443.7 774.5V827.7M444.7 787V835.4M445.7 777.6V834.1M446.7 794.4V830.9M447.7 788.4V827.7M448.7 780.5V832.8M449.7 785.7V833.1M450.7 791.5V838.9M451.7 786.5V832.2M452.7 791.6V834.5M453.7 781.3V828.6M454.7 794.2V830.1M455.7 786.5V847M456.7 795.4V825.8M457.7 789.6V834.5M458.7 790.4V833M459.7 768.7V828.6M460.7 790.9V828.1M461.7 783.1V833.2M462.7 791.7V827.3M463.7 791.8V839.5M464.7 786.3V839.7M465.7 791.5V828.7M466.7 790.4V828.8M467.7 784.1V827.4M468.7 788.9V829.5M469.7 774.1V834.7M470.7 787.8V850.9M471.7 791.7V834.6M472.7 789V833.1M473.7 775.9V829.4M474.7 784.9V833.6M475.7 795.4V826.6M476.7 787.9V835.7M477.7 790.7V833.5M478.7 776.2V831.8M479.7 791.5V831.7M480.7 785.7V832M481.7 782.6V852.5M482.7 788.2V832.5M483.7 777.6V833.6M484.7 785.9V838.2M485.7 794.2V836.6M486.7 771.8V833.8M487.7 777.7V832.6M488.7 777.9V831.1M489.7 788.2V834.3M490.7 784.7V834.9M491.7 788.5V835.1M492.7 791.6V831.5M493.7 783.4V831.3M494.7 794.4V839.5M495.7 787.6V834.3M496.7 789.1V825.9M497.7 795.1V841.8M498.7 788.4V835M499.7 790.2V834M500.7 789.2V833M501.7 794.8V834.3M502.7 780.3V826.9M503.7 789.6V831.5" stroke="#0072BD" stroke-width="1.5" fill="none"/>
<text x="112.2" y="913.7" text-anchor="middle" font-size="22">0</text>
<text x="190.6" y="913.7" text-anchor="middle" font-size="22">0.02</text>
<text x="268.9" y="913.7" text-anchor="middle" font-size="22">0.04</text>
<text x="347.3" y="913.7" text-anchor="middle" font-size="22">0.06</text>
<text x="425.7" y="913.7" text-anchor="middle" font-size="22">0.08</text>
<text x="504.1" y="913.7" text-anchor="middle" font-size="22">0.1</text>
<text x="105" y="895.7" text-anchor="end" font-size="22">-1</text>
<text x="105" y="818.1" text-anchor="end" font-size="22">0</text>
<text x="105" y="740.5" text-anchor="end" font-size="22">1</text>
<rect x="628.1" y="732.2" width="393.4" height="155.2" fill="none" stroke="#262626" stroke-width="1.4"/>
<path d="M706.8 887.4V882.9M706.8 732.2V736.7M785.5 887.4V882.9M785.5 732.2V736.7M864.1 887.4V882.9M864.1 732.2V736.7M942.8 887.4V882.9M942.8 732.2V736.7M628.1 835.7H632.6M1021.5 835.7H1017M628.1 783.9H632.6M1021.5 783.9H1017" stroke="#262626" stroke-width="1.3" fill="none"/>
<clipPath id="cr3"><rect x="627.4" y="731.7" width="394.9" height="156.9"/></clipPath>
<path clip-path="url(#cr3)" d="M628.6 821.4V888.4M629.6 839.7V888.4M630.6 838V888.4M631.6 739.4V888.4M632.6 842.2V888.4M633.6 802.6V888.4M634.6 807.3V888.4M635.6 852.9V888.4M636.6 841.9V888.4M637.6 829.3V888.4M638.6 824.7V888.4M639.6 861.8V888.4M640.6 836.6V888.4M641.6 799.5V888.4M642.6 841.1V888.4M643.6 814.6V888.4M644.6 806.7V888.4M645.6 844.6V888.4M646.6 852.2V888.4M647.6 849.3V888.4M648.6 859.4V888.4M649.6 849.5V888.4M650.6 858.9V888.4M651.6 825.3V888.4M652.6 827.1V888.4M653.6 838.8V888.4M654.6 803.3V888.4M655.6 824.7V888.4M656.6 855.2V888.4M657.6 800.9V888.4M658.6 801.9V888.4M659.6 846.9V888.4M660.6 840.6V888.4M661.6 808.8V888.4M662.6 853.9V888.4M663.6 830.5V888.4M664.6 848.5V888.4M665.6 854.2V888.4M666.6 850.9V888.4M667.6 837.2V888.4M668.6 829.8V888.4M669.6 807.7V888.4M670.6 827V888.4M671.6 845.1V888.4M672.6 814.4V888.4M673.6 835.1V888.4M674.6 846.6V888.4M675.6 823.3V888.4M676.6 836.2V888.4M677.6 817.2V888.4M678.6 839.5V888.4M679.6 820.5V888.4M680.6 863V888.4M681.6 770.5V888.4M682.6 859V888.4M683.6 839.8V888.4M684.6 837.8V888.4M685.6 845.4V888.4M686.6 812.7V888.4M687.6 835.4V888.4M688.6 857.3V888.4M689.6 846.1V888.4M690.6 831.2V888.4M691.6 810.8V888.4M692.6 855.7V888.4M693.6 826.7V888.4M694.6 818.3V888.4M695.6 858.6V888.4M696.6 794.3V888.4M697.6 846.4V888.4M698.6 844.5V888.4M699.6 836.9V888.4M700.6 829.6V888.4M701.6 833.9V888.4M702.6 800.5V888.4M703.6 856.9V888.4M704.6 854V888.4M705.6 820.2V888.4M706.6 832.1V888.4M707.6 854.3V888.4M708.6 830.2V888.4M709.6 839.4V888.4M710.6 860.8V888.4M711.6 857.5V888.4M712.6 853.4V888.4M713.6 801V888.4M714.6 859.2V888.4M715.6 844.6V888.4M716.6 822.9V888.4M717.6 832.7V888.4M718.6 818.4V888.4M719.6 832V888.4M720.6 806V888.4M721.6 855.9V888.4M722.6 849.1V888.4M723.6 799.5V888.4M724.6 861.5V888.4M725.6 856.2V888.4M726.6 804.4V888.4M727.6 853.5V888.4M728.6 821.6V888.4M729.6 853.9V888.4M730.6 838.5V888.4M731.6 815.5V888.4M732.6 817.6V888.4M733.6 830.4V888.4M734.6 824.3V888.4M735.6 821.3V888.4M736.6 809.3V888.4M737.6 808.8V888.4M738.6 843.3V888.4M739.6 854.2V888.4M740.6 798V888.4M741.6 834.8V888.4M742.6 833.3V888.4M743.6 827V888.4M744.6 834V888.4M745.6 761.2V888.4M746.6 858.6V888.4M747.6 859.6V888.4M748.6 842.1V888.4M749.6 853.6V888.4M750.6 846V888.4M751.6 842.9V888.4M752.6 804.9V888.4M753.6 860.2V888.4M754.6 775.7V888.4M755.6 863.1V888.4M756.6 814.1V888.4M757.6 849.2V888.4M758.6 824.1V888.4M759.6 858.7V888.4M760.6 849.6V888.4M761.6 824.7V888.4M762.6 823.4V888.4M763.6 840.4V888.4M764.6 856.5V888.4M765.6 856.6V888.4M766.6 834.7V888.4M767.6 855V888.4M768.6 843.5V888.4M769.6 836.4V888.4M770.6 825.6V888.4M771.6 828.1V888.4M772.6 834.1V888.4M773.6 845.3V888.4M774.6 848.2V888.4M775.6 845.5V888.4M776.6 813.9V888.4M777.6 848V888.4M778.6 786.5V888.4M779.6 819.3V888.4M780.6 804.1V888.4M781.6 791.4V888.4M782.6 833.5V888.4M783.6 849.7V888.4M784.6 799.2V888.4M785.6 839.1V888.4M786.6 829.8V888.4M787.6 857.8V888.4M788.6 799.5V888.4M789.6 854.6V888.4M790.6 846.3V888.4M791.6 815.6V888.4M792.6 862.7V888.4M793.6 852.6V888.4M794.6 830.5V888.4M795.6 843V888.4M796.6 843.6V888.4M797.6 819.8V888.4M798.6 840.7V888.4M799.6 837.6V888.4M800.6 775.7V888.4M801.6 836V888.4M802.6 827.9V888.4M803.6 844.1V888.4M804.6 797.4V888.4M805.6 850.7V888.4M806.6 830.2V888.4M807.6 825.4V888.4M808.6 832.3V888.4M809.6 828V888.4M810.6 797.4V888.4M811.6 828.7V888.4M812.6 804.3V888.4M813.6 841.3V888.4M814.6 824.1V888.4M815.6 831.8V888.4M816.6 831.9V888.4M817.6 832.3V888.4M818.6 779.4V888.4M819.6 733.2V888.4M820.6 785.7V888.4M821.6 746.7V888.4M822.6 853.6V888.4M823.6 819.7V888.4M824.6 804.6V888.4M825.6 852.8V888.4M826.6 830.4V888.4M827.6 822.8V888.4M828.6 852.6V888.4M829.6 803.8V888.4M830.6 854.4V888.4M831.6 816.3V888.4M832.6 809.4V888.4M833.6 821.6V888.4M834.6 837.7V888.4M835.6 774.6V888.4M836.6 837.2V888.4M837.6 793.8V888.4M838.6 825.4V888.4M839.6 852.3V888.4M840.6 841.1V888.4M841.6 792.2V888.4M842.6 857.9V888.4M843.6 846.5V888.4M844.6 841.5V888.4M845.6 837V888.4M846.6 834.7V888.4M847.6 815.1V888.4M848.6 843.4V888.4M849.6 765.3V888.4M850.6 800.4V888.4M851.6 786V888.4M852.6 842.2V888.4M853.6 807.1V888.4M854.6 835.9V888.4M855.6 814.4V888.4M856.6 804.6V888.4M857.6 848.9V888.4M858.6 816.8V888.4M859.6 803.7V888.4M860.6 824.5V888.4M861.6 837.6V888.4M862.6 846.3V888.4M863.6 834.4V888.4M864.6 862.1V888.4M865.6 837.7V888.4M866.6 811.8V888.4M867.6 773.6V888.4M868.6 859V888.4M869.6 850.9V888.4M870.6 837.2V888.4M871.6 840.1V888.4M872.6 859.2V888.4M873.6 812.8V888.4M874.6 848.7V888.4M875.6 857.9V888.4M876.6 859.2V888.4M877.6 846V888.4M878.6 853.7V888.4M879.6 851V888.4M880.6 788.1V888.4M881.6 846.6V888.4M882.6 807V888.4M883.6 862.2V888.4M884.6 830.8V888.4M885.6 828.2V888.4M886.6 833.1V888.4M887.6 856.7V888.4M888.6 798.4V888.4M889.6 818.3V888.4M890.6 829.4V888.4M891.6 854.4V888.4M892.6 841.9V888.4M893.6 791.8V888.4M894.6 856.9V888.4M895.6 835.2V888.4M896.6 843V888.4M897.6 815.9V888.4M898.6 797.5V888.4M899.6 854.1V888.4M900.6 796.1V888.4M901.6 859.9V888.4M902.6 827.7V888.4M903.6 822.6V888.4M904.6 842.7V888.4M905.6 816V888.4M906.6 861.4V888.4M907.6 864.3V888.4M908.6 811.9V888.4M909.6 818.4V888.4M910.6 833.7V888.4M911.6 812.3V888.4M912.6 808.1V888.4M913.6 848.6V888.4M914.6 818V888.4M915.6 856.1V888.4M916.6 830.6V888.4M917.6 825.8V888.4M918.6 818.1V888.4M919.6 855.6V888.4M920.6 859.7V888.4M921.6 858.1V888.4M922.6 803V888.4M923.6 856.3V888.4M924.6 846.4V888.4M925.6 812.2V888.4M926.6 812V888.4M927.6 851.8V888.4M928.6 859.4V888.4M929.6 849.8V888.4M930.6 833.7V888.4M931.6 828.6V888.4M932.6 861.7V888.4M933.6 766.3V888.4M934.6 848.8V888.4M935.6 853V888.4M936.6 816.7V888.4M937.6 854V888.4M938.6 843.5V888.4M939.6 804.6V888.4M940.6 855.4V888.4M941.6 828V888.4M942.6 860.1V888.4M943.6 818V888.4M944.6 836.3V888.4M945.6 854.8V888.4M946.6 800.6V888.4M947.6 853.6V888.4M948.6 811.6V888.4M949.6 844.6V888.4M950.6 824.4V888.4M951.6 795.3V888.4M952.6 840.8V888.4M953.6 833.5V888.4M954.6 844.4V888.4M955.6 812.7V888.4M956.6 835.2V888.4M957.6 857.7V888.4M958.6 814.7V888.4M959.6 859.9V888.4M960.6 845.3V888.4M961.6 797.4V888.4M962.6 820.6V888.4M963.6 860.1V888.4M964.6 833.4V888.4M965.6 816.4V888.4M966.6 767.4V888.4M967.6 855.9V888.4M968.6 798.5V888.4M969.6 819V888.4M970.6 814.5V888.4M971.6 852.5V888.4M972.6 802.5V888.4M973.6 843.3V888.4M974.6 834.6V888.4M975.6 818.4V888.4M976.6 835V888.4M977.6 851.5V888.4M978.6 831.4V888.4M979.6 837.9V888.4M980.6 836.3V888.4M981.6 848.7V888.4M982.6 824.7V888.4M983.6 791.2V888.4M984.6 834.5V888.4M985.6 824.4V888.4M986.6 848.4V888.4M987.6 849.2V888.4M988.6 857.3V888.4M989.6 814.6V888.4M990.6 843.9V888.4M991.6 850.3V888.4M992.6 838.8V888.4M993.6 841.2V888.4M994.6 855.6V888.4M995.6 816.8V888.4M996.6 850.5V888.4M997.6 806.1V888.4M998.6 851.6V888.4M999.6 846.8V888.4M1000.6 811.1V888.4M1001.6 849.9V888.4M1002.6 852.3V888.4M1003.6 859.9V888.4M1004.6 769.4V888.4M1005.6 809.4V888.4M1006.6 852.9V888.4M1007.6 845.2V888.4M1008.6 808.7V888.4M1009.6 835V888.4M1010.6 845V888.4M1011.6 830.9V888.4M1012.6 832.7V888.4M1013.6 859.1V888.4M1014.6 812.8V888.4M1015.6 833.3V888.4M1016.6 831.5V888.4M1017.6 851.8V888.4M1018.6 807.4V888.4M1019.6 836.2V888.4M1020.6 845.7V888.4" stroke="#0072BD" stroke-width="1.5" fill="none"/>
<text x="628.1" y="913.7" text-anchor="middle" font-size="22">0</text>
<text x="706.8" y="913.7" text-anchor="middle" font-size="22">1</text>
<text x="785.5" y="913.7" text-anchor="middle" font-size="22">2</text>
<text x="864.1" y="913.7" text-anchor="middle" font-size="22">3</text>
<text x="942.8" y="913.7" text-anchor="middle" font-size="22">4</text>
<text x="1021.5" y="913.7" text-anchor="middle" font-size="22">5</text>
<text x="621.8" y="895.7" text-anchor="end" font-size="22">0</text>
<text x="621.8" y="844" text-anchor="end" font-size="22">0.05</text>
<text x="621.8" y="792.2" text-anchor="end" font-size="22">0.1</text>
<text x="621.8" y="740.5" text-anchor="end" font-size="22">0.15</text>
<text x="0.7" y="832.7" font-size="28" style="fill:#000">REF</text>
<text transform="translate(80 810.6) rotate(-90)" text-anchor="middle" font-size="25">Amp.(m/s<tspan dy="-12" font-size="19">2</tspan><tspan dy="12">)</tspan></text>
<text transform="translate(575.7 810.6) rotate(-90)" text-anchor="middle" font-size="25">Amp.(m/s<tspan dy="-12" font-size="19">2</tspan><tspan dy="12">)</tspan></text>
<path d="M972.9 935.5L983.4 945.4M983.4 935.5L972.9 945.4" stroke="#262626" stroke-width="1.3" fill="none"/>
<text x="988.2" y="945.7" font-size="22">10</text>
<text x="1011" y="936.5" font-size="18">4</text>
<text x="307.3" y="941.9" text-anchor="middle" font-size="24.3">Time(s)</text>
<text x="824.6" y="941.4" text-anchor="middle" font-size="24.5">Frequency(Hz)</text>
<text x="307.3" y="969.2" text-anchor="middle" font-size="24">(a)</text>
<text x="824.1" y="969.2" text-anchor="middle" font-size="24">(b)</text>
</svg></body></html>
